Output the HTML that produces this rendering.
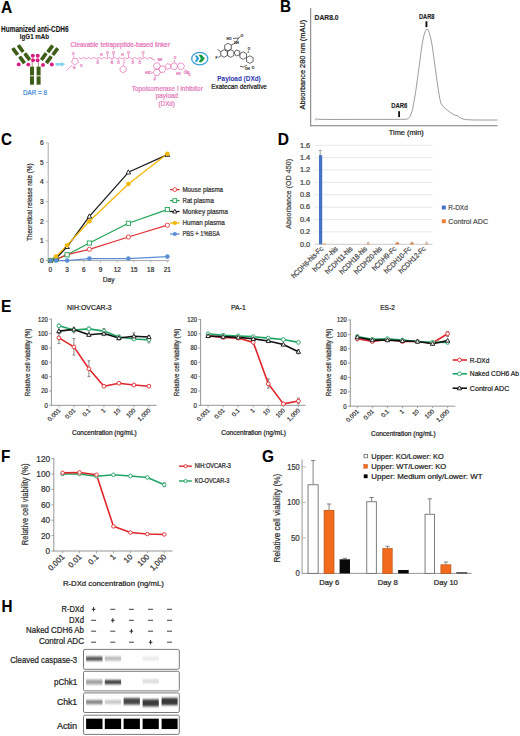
<!DOCTYPE html>
<html><head><meta charset="utf-8"><style>
html,body{margin:0;padding:0;background:#fff;width:520px;height:736px;overflow:hidden;}
svg{display:block;font-family:"Liberation Sans",sans-serif;}
</style></head><body>
<svg width="520" height="736" viewBox="0 0 520 736">
<rect width="520" height="736" fill="#fff"/>
<text x="0.90" y="12.90" font-size="16.0" fill="#000" stroke="#000" stroke-width="0.1" font-weight="bold" textLength="11.2" lengthAdjust="spacingAndGlyphs" >A</text>
<text x="280.00" y="12.30" font-size="15.6" fill="#000" stroke="#000" stroke-width="0.1" font-weight="bold" textLength="11.0" lengthAdjust="spacingAndGlyphs" >B</text>
<text x="0.90" y="145.40" font-size="15.9" fill="#000" stroke="#000" stroke-width="0.1" font-weight="bold" textLength="11.0" lengthAdjust="spacingAndGlyphs" >C</text>
<text x="277.80" y="145.30" font-size="15.6" fill="#000" stroke="#000" stroke-width="0.1" font-weight="bold" textLength="11.2" lengthAdjust="spacingAndGlyphs" >D</text>
<text x="1.00" y="311.80" font-size="16.4" fill="#000" stroke="#000" stroke-width="0.1" font-weight="bold" textLength="10.3" lengthAdjust="spacingAndGlyphs" >E</text>
<text x="1.00" y="461.80" font-size="16.4" fill="#000" stroke="#000" stroke-width="0.1" font-weight="bold" textLength="9.3" lengthAdjust="spacingAndGlyphs" >F</text>
<text x="262.00" y="462.00" font-size="16.0" fill="#000" stroke="#000" stroke-width="0.1" font-weight="bold" textLength="12.0" lengthAdjust="spacingAndGlyphs" >G</text>
<text x="1.40" y="611.90" font-size="16.4" fill="#000" stroke="#000" stroke-width="0.1" font-weight="bold" textLength="11.0" lengthAdjust="spacingAndGlyphs" >H</text>
<text x="1.00" y="32.30" font-size="8.3" fill="#111" stroke="#111" stroke-width="0.1" font-weight="bold" textLength="67.6" lengthAdjust="spacingAndGlyphs" >Humanized anti-CDH6</text>
<text x="19.80" y="39.10" font-size="7.9" fill="#111" stroke="#111" stroke-width="0.1" font-weight="bold" textLength="29.3" lengthAdjust="spacingAndGlyphs" >IgG1 mAb</text>
<rect x="11.00" y="49.65" width="8.4" height="3.7" rx="0.6" fill="#3e5d17" transform="rotate(53.5 15.20 51.50)"/>
<rect x="16.50" y="46.75" width="8.4" height="3.7" rx="0.6" fill="#3e5d17" transform="rotate(53.5 20.70 48.60)"/>
<rect x="17.90" y="58.05" width="8.4" height="3.7" rx="0.6" fill="#3e5d17" transform="rotate(53.5 22.10 59.90)"/>
<rect x="23.10" y="54.85" width="8.4" height="3.7" rx="0.6" fill="#3e5d17" transform="rotate(53.5 27.30 56.70)"/>
<rect x="51.10" y="49.75" width="8.4" height="3.7" rx="0.6" fill="#3e5d17" transform="rotate(-53.5 55.30 51.60)"/>
<rect x="46.10" y="46.95" width="8.4" height="3.7" rx="0.6" fill="#3e5d17" transform="rotate(-53.5 50.30 48.80)"/>
<rect x="44.60" y="57.85" width="8.4" height="3.7" rx="0.6" fill="#3e5d17" transform="rotate(-53.5 48.80 59.70)"/>
<rect x="39.60" y="54.75" width="8.4" height="3.7" rx="0.6" fill="#3e5d17" transform="rotate(-53.5 43.80 56.60)"/>
<rect x="30.00" y="66.60" width="4.00" height="8.80" fill="#3e5d17" stroke="none" stroke-width="0" />
<rect x="30.00" y="76.30" width="4.00" height="8.40" fill="#3e5d17" stroke="none" stroke-width="0" />
<rect x="36.60" y="66.60" width="4.00" height="8.80" fill="#3e5d17" stroke="none" stroke-width="0" />
<rect x="36.60" y="76.30" width="4.00" height="8.40" fill="#3e5d17" stroke="none" stroke-width="0" />
<line x1="32.20" y1="62.00" x2="32.20" y2="66.60" stroke="#6b5a40" stroke-width="0.6" />
<line x1="38.40" y1="62.00" x2="38.40" y2="66.60" stroke="#6b5a40" stroke-width="0.6" />
<circle cx="18.70" cy="64.40" r="1.95" fill="#d8197f" stroke="none" stroke-width="0"/>
<circle cx="28.30" cy="64.60" r="1.95" fill="#d8197f" stroke="none" stroke-width="0"/>
<circle cx="32.80" cy="55.70" r="1.95" fill="#d8197f" stroke="none" stroke-width="0"/>
<circle cx="37.80" cy="55.70" r="1.95" fill="#d8197f" stroke="none" stroke-width="0"/>
<circle cx="33.00" cy="60.30" r="1.95" fill="#d8197f" stroke="none" stroke-width="0"/>
<circle cx="37.60" cy="60.30" r="1.95" fill="#d8197f" stroke="none" stroke-width="0"/>
<circle cx="43.00" cy="64.90" r="1.95" fill="#d8197f" stroke="none" stroke-width="0"/>
<circle cx="51.80" cy="64.50" r="1.95" fill="#d8197f" stroke="none" stroke-width="0"/>
<line x1="55.60" y1="64.30" x2="62.50" y2="64.30" stroke="#86d6ef" stroke-width="2.6" />
<polygon points="61.50,61.80 65.00,64.30 61.50,66.80" fill="#86d6ef" stroke="none" stroke-width="1" stroke-linejoin="round" />
<text x="23.00" y="95.00" font-size="7.5" fill="#3a88dc" stroke="#3a88dc" stroke-width="0.22" textLength="24" lengthAdjust="spacingAndGlyphs" >DAR = 8</text>
<text x="70.50" y="47.00" font-size="7.6" fill="#e46db6" stroke="#e46db6" stroke-width="0.22" textLength="99.5" lengthAdjust="spacingAndGlyphs" >Cleavable tetrapeptide-based linker</text>
<line x1="66.40" y1="70.60" x2="72.40" y2="65.00" stroke="#e46db6" stroke-width="0.7" />
<polygon points="77.12,58.49 78.42,62.51 75.00,65.00 71.58,62.51 72.88,58.49" fill="none" stroke="#e46db6" stroke-width="0.7" stroke-linejoin="round" />
<text x="73.20" y="54.80" font-size="3.2" fill="#e46db6" stroke="#e46db6" stroke-width="0.22" text-anchor="middle" >O</text>
<line x1="73.50" y1="55.50" x2="73.80" y2="57.80" stroke="#e46db6" stroke-width="0.7" />
<text x="81.20" y="67.20" font-size="3.2" fill="#e46db6" stroke="#e46db6" stroke-width="0.22" text-anchor="middle" >O</text>
<text x="74.20" y="68.60" font-size="3.2" fill="#e46db6" stroke="#e46db6" stroke-width="0.22" text-anchor="middle" >N</text>
<polyline points="78.60,57.40 81.15,58.90 83.70,57.40 86.25,58.90 88.80,57.40 91.35,58.90 93.90,57.40 96.45,58.90 99.00,57.40 101.55,58.90 104.10,57.40 106.65,58.90 109.20,57.40 111.75,58.90 114.30,57.40 116.85,58.90 119.40,57.40 121.95,58.90 124.50,57.40 127.05,58.90 129.60,57.40 132.15,58.90 134.70,57.40 137.25,58.90 139.80,57.40 142.35,58.90 144.90,57.40 147.45,58.90 150.00,57.40 152.55,58.90" fill="none" stroke="#e46db6" stroke-width="0.7" stroke-linejoin="round" />
<line x1="107.50" y1="57.50" x2="107.50" y2="54.00" stroke="#e46db6" stroke-width="0.7" />
<text x="107.50" y="53.60" font-size="3.2" fill="#e46db6" stroke="#e46db6" stroke-width="0.22" text-anchor="middle" >O</text>
<line x1="128.50" y1="57.50" x2="128.50" y2="54.00" stroke="#e46db6" stroke-width="0.7" />
<text x="128.50" y="53.60" font-size="3.2" fill="#e46db6" stroke="#e46db6" stroke-width="0.22" text-anchor="middle" >O</text>
<line x1="143.20" y1="57.50" x2="143.20" y2="54.00" stroke="#e46db6" stroke-width="0.7" />
<text x="143.20" y="53.60" font-size="3.2" fill="#e46db6" stroke="#e46db6" stroke-width="0.22" text-anchor="middle" >O</text>
<line x1="113.50" y1="57.50" x2="113.50" y2="54.00" stroke="#e46db6" stroke-width="0.7" />
<text x="113.50" y="53.60" font-size="3.2" fill="#e46db6" stroke="#e46db6" stroke-width="0.22" text-anchor="middle" >O</text>
<line x1="97.80" y1="58.80" x2="97.80" y2="61.50" stroke="#e46db6" stroke-width="0.7" />
<text x="97.80" y="64.20" font-size="3.2" fill="#e46db6" stroke="#e46db6" stroke-width="0.22" text-anchor="middle" >O</text>
<line x1="118.60" y1="58.80" x2="118.60" y2="61.50" stroke="#e46db6" stroke-width="0.7" />
<text x="118.60" y="64.20" font-size="3.2" fill="#e46db6" stroke="#e46db6" stroke-width="0.22" text-anchor="middle" >O</text>
<line x1="132.80" y1="58.80" x2="132.80" y2="61.50" stroke="#e46db6" stroke-width="0.7" />
<text x="132.80" y="64.20" font-size="3.2" fill="#e46db6" stroke="#e46db6" stroke-width="0.22" text-anchor="middle" >O</text>
<line x1="112.00" y1="58.80" x2="112.00" y2="61.50" stroke="#e46db6" stroke-width="0.7" />
<text x="112.00" y="64.20" font-size="3.2" fill="#e46db6" stroke="#e46db6" stroke-width="0.22" text-anchor="middle" >N</text>
<line x1="139.80" y1="58.80" x2="139.80" y2="61.50" stroke="#e46db6" stroke-width="0.7" />
<text x="139.80" y="64.20" font-size="3.2" fill="#e46db6" stroke="#e46db6" stroke-width="0.22" text-anchor="middle" >O</text>
<text x="101.30" y="55.60" font-size="3.2" fill="#e46db6" stroke="#e46db6" stroke-width="0.22" text-anchor="middle" >H</text>
<text x="122.30" y="55.60" font-size="3.2" fill="#e46db6" stroke="#e46db6" stroke-width="0.22" text-anchor="middle" >H</text>
<line x1="124.30" y1="59.00" x2="123.60" y2="65.50" stroke="#e46db6" stroke-width="0.7" />
<polygon points="126.23,71.05 123.20,72.80 120.17,71.05 120.17,67.55 123.20,65.80 126.23,67.55" fill="none" stroke="#e46db6" stroke-width="0.7" stroke-linejoin="round" />
<polygon points="160.50,66.00 158.70,69.12 155.10,69.12 153.30,66.00 155.10,62.88 158.70,62.88" fill="none" stroke="#e46db6" stroke-width="0.7" stroke-linejoin="round" />
<polygon points="160.50,72.30 158.70,75.42 155.10,75.42 153.30,72.30 155.10,69.18 158.70,69.18" fill="none" stroke="#e46db6" stroke-width="0.7" stroke-linejoin="round" />
<polygon points="165.90,69.20 164.10,72.32 160.50,72.32 158.70,69.20 160.50,66.08 164.10,66.08" fill="none" stroke="#e46db6" stroke-width="0.7" stroke-linejoin="round" />
<polygon points="165.20,66.40 167.27,63.55 170.63,64.64 170.63,68.16 167.27,69.25" fill="none" stroke="#e46db6" stroke-width="0.7" stroke-linejoin="round" />
<polygon points="177.80,66.20 176.00,69.32 172.40,69.32 170.60,66.20 172.40,63.08 176.00,63.08" fill="none" stroke="#e46db6" stroke-width="0.7" stroke-linejoin="round" />
<polygon points="184.50,66.20 182.70,69.32 179.10,69.32 177.30,66.20 179.10,63.08 182.70,63.08" fill="none" stroke="#e46db6" stroke-width="0.7" stroke-linejoin="round" />
<line x1="150.50" y1="58.20" x2="155.00" y2="60.20" stroke="#e46db6" stroke-width="0.7" />
<text x="160.00" y="61.20" font-size="3.0" fill="#e46db6" stroke="#e46db6" stroke-width="0.22" text-anchor="middle" >NH</text>
<text x="148.30" y="74.00" font-size="3.0" fill="#e46db6" stroke="#e46db6" stroke-width="0.22" text-anchor="middle" >H3C</text>
<text x="154.80" y="81.00" font-size="3.2" fill="#e46db6" stroke="#e46db6" stroke-width="0.22" text-anchor="middle" >F</text>
<line x1="151.00" y1="72.80" x2="153.30" y2="72.80" stroke="#e46db6" stroke-width="0.7" />
<line x1="155.10" y1="75.50" x2="155.10" y2="78.20" stroke="#e46db6" stroke-width="0.7" />
<text x="174.90" y="59.30" font-size="3.2" fill="#e46db6" stroke="#e46db6" stroke-width="0.22" text-anchor="middle" >O</text>
<line x1="174.50" y1="60.00" x2="174.50" y2="62.60" stroke="#e46db6" stroke-width="0.7" />
<text x="178.60" y="74.60" font-size="3.0" fill="#e46db6" stroke="#e46db6" stroke-width="0.22" text-anchor="middle" >HO</text>
<text x="189.40" y="76.40" font-size="3.0" fill="#e46db6" stroke="#e46db6" stroke-width="0.22" text-anchor="middle" >O</text>
<text x="186.50" y="73.60" font-size="2.8" fill="#e46db6" stroke="#e46db6" stroke-width="0.22" text-anchor="middle" >CH3</text>
<line x1="184.50" y1="69.40" x2="187.60" y2="71.20" stroke="#e46db6" stroke-width="0.7" />
<text x="131.80" y="90.60" font-size="7.6" fill="#e377b8" stroke="#e377b8" stroke-width="0.22" textLength="71.0" lengthAdjust="spacingAndGlyphs" >Topoisomerase I inhibitor</text>
<text x="166.90" y="98.20" font-size="7.4" fill="#e377b8" stroke="#e377b8" stroke-width="0.22" text-anchor="middle" textLength="22.4" lengthAdjust="spacingAndGlyphs" >payload</text>
<text x="166.70" y="105.70" font-size="7.4" fill="#e377b8" stroke="#e377b8" stroke-width="0.22" text-anchor="middle" textLength="16.3" lengthAdjust="spacingAndGlyphs" >(DXd)</text>
<ellipse cx="199.75" cy="58.6" rx="8.1" ry="6.3" fill="#fff" stroke="#3aa0d8" stroke-width="1.3"/>
<polygon points="194.70,55.40 197.10,55.40 199.20,58.60 197.10,61.80 194.70,61.80 196.60,58.60" fill="#2a9fd6" stroke="none" stroke-width="1" stroke-linejoin="round" />
<polygon points="198.60,54.70 201.60,54.70 204.80,58.50 201.60,62.30 198.60,62.30 200.90,58.50" fill="#179a43" stroke="none" stroke-width="1" stroke-linejoin="round" />
<polygon points="231.29,49.00 228.00,50.90 224.71,49.00 224.71,45.20 228.00,43.30 231.29,45.20" fill="none" stroke="#333" stroke-width="0.75" stroke-linejoin="round" />
<polygon points="227.39,55.40 224.10,57.30 220.81,55.40 220.81,51.60 224.10,49.70 227.39,51.60" fill="none" stroke="#333" stroke-width="0.75" stroke-linejoin="round" />
<polygon points="233.99,55.40 230.70,57.30 227.41,55.40 227.41,51.60 230.70,49.70 233.99,51.60" fill="none" stroke="#333" stroke-width="0.75" stroke-linejoin="round" />
<polygon points="234.00,53.00 236.21,49.96 239.79,51.12 239.79,54.88 236.21,56.04" fill="none" stroke="#333" stroke-width="0.75" stroke-linejoin="round" />
<polygon points="246.49,57.50 243.20,59.40 239.91,57.50 239.91,53.70 243.20,51.80 246.49,53.70" fill="none" stroke="#333" stroke-width="0.75" stroke-linejoin="round" />
<polygon points="253.09,61.50 249.80,63.40 246.51,61.50 246.51,57.70 249.80,55.80 253.09,57.70" fill="none" stroke="#333" stroke-width="0.75" stroke-linejoin="round" />
<line x1="220.90" y1="51.90" x2="217.50" y2="49.50" stroke="#333" stroke-width="0.75" />
<text x="216.50" y="58.60" font-size="3.4" fill="#333" stroke="#333" stroke-width="0.22" text-anchor="middle" >F</text>
<line x1="220.90" y1="55.90" x2="218.30" y2="57.40" stroke="#333" stroke-width="0.75" />
<line x1="231.20" y1="45.00" x2="235.00" y2="43.30" stroke="#333" stroke-width="0.75" />
<text x="236.50" y="44.20" font-size="3.2" fill="#333" stroke="#333" stroke-width="0.22" text-anchor="middle" >NH</text>
<line x1="236.80" y1="41.20" x2="238.50" y2="38.00" stroke="#333" stroke-width="0.75" />
<line x1="238.50" y1="38.00" x2="233.00" y2="38.50" stroke="#333" stroke-width="0.75" />
<line x1="238.50" y1="38.00" x2="240.50" y2="36.50" stroke="#333" stroke-width="0.75" />
<text x="229.00" y="40.00" font-size="3.2" fill="#333" stroke="#333" stroke-width="0.22" text-anchor="middle" >HO</text>
<text x="242.00" y="37.00" font-size="3.2" fill="#333" stroke="#333" stroke-width="0.22" text-anchor="middle" >O</text>
<line x1="248.00" y1="53.00" x2="248.50" y2="50.80" stroke="#333" stroke-width="0.75" />
<text x="249.00" y="50.30" font-size="3.2" fill="#333" stroke="#333" stroke-width="0.22" text-anchor="middle" >O</text>
<line x1="247.00" y1="65.00" x2="243.50" y2="67.00" stroke="#333" stroke-width="0.75" />
<line x1="243.50" y1="67.00" x2="240.00" y2="66.20" stroke="#333" stroke-width="0.75" />
<text x="247.50" y="69.50" font-size="3.2" fill="#333" stroke="#333" stroke-width="0.22" text-anchor="middle" >OH</text>
<text x="253.00" y="69.00" font-size="3.2" fill="#333" stroke="#333" stroke-width="0.22" text-anchor="middle" >O</text>
<text x="217.30" y="80.70" font-size="7.7" fill="#2c38b0" stroke="#2c38b0" stroke-width="0.05" font-weight="bold" textLength="43.4" lengthAdjust="spacingAndGlyphs" >Payload (DXd)</text>
<text x="211.30" y="88.90" font-size="8.0" fill="#111" stroke="#111" stroke-width="0.22" textLength="55.6" lengthAdjust="spacingAndGlyphs" >Exatecan derivative</text>
<line x1="310.70" y1="8.00" x2="310.70" y2="126.30" stroke="#7a7a7a" stroke-width="1.0" />
<line x1="310.20" y1="125.80" x2="497.60" y2="125.80" stroke="#7a7a7a" stroke-width="1.1" />
<text x="304.70" y="64.60" font-size="7.6" fill="#222" stroke="#222" stroke-width="0.22" text-anchor="middle" textLength="89.7" lengthAdjust="spacingAndGlyphs" transform="rotate(-90 304.70 64.60)" >Absorbance 280 nm (mAU)</text>
<text x="314.60" y="19.50" font-size="6.6" fill="#222" stroke="#222" stroke-width="0.12" font-weight="bold" textLength="24.0" lengthAdjust="spacingAndGlyphs" >DAR8.0</text>
<text x="419.00" y="18.90" font-size="6.6" fill="#222" stroke="#222" stroke-width="0.12" font-weight="bold" textLength="15.4" lengthAdjust="spacingAndGlyphs" >DAR8</text>
<text x="391.30" y="107.50" font-size="6.6" fill="#222" stroke="#222" stroke-width="0.12" font-weight="bold" textLength="16.0" lengthAdjust="spacingAndGlyphs" >DAR6</text>
<rect x="425.50" y="21.30" width="1.90" height="5.80" fill="#111" stroke="none" stroke-width="0" />
<rect x="398.20" y="111.20" width="1.80" height="5.90" fill="#111" stroke="none" stroke-width="0" />
<text x="388.80" y="135.00" font-size="7.4" fill="#222" stroke="#222" stroke-width="0.22" textLength="35" lengthAdjust="spacingAndGlyphs" >Time (min)</text>
<polyline points="315.00,120.40 315.60,119.00 316.50,118.80 318.00,119.30 330.00,119.50 360.00,119.40 390.00,119.40 405.00,119.30 407.70,119.00 410.00,116.50 412.30,110.80 414.00,101.50 415.40,93.80 417.30,80.00 419.20,66.20 420.80,53.50 422.30,43.10 424.00,35.00 425.40,30.80 426.90,29.00 428.00,29.80 429.20,32.30 430.80,38.50 432.30,46.20 433.80,57.50 435.40,69.20 437.00,81.00 438.50,90.80 439.70,98.00 440.80,103.10 443.00,106.50 446.20,109.20 449.00,111.50 452.30,113.80 455.00,115.20 457.70,115.80 459.00,117.00 461.50,118.50 464.00,119.30 466.20,119.70 475.00,120.00 497.50,120.00" fill="none" stroke="#8c8c8c" stroke-width="0.85" stroke-linejoin="round" />
<line x1="48.20" y1="142.80" x2="48.20" y2="261.00" stroke="#a8a8a8" stroke-width="1.0" />
<line x1="48.20" y1="260.60" x2="169.50" y2="260.60" stroke="#a8a8a8" stroke-width="1.0" />
<line x1="45.80" y1="260.50" x2="48.20" y2="260.50" stroke="#a8a8a8" stroke-width="0.8" />
<text x="43.60" y="262.70" font-size="6.6" fill="#333" stroke="#333" stroke-width="0.22" text-anchor="end" >0</text>
<line x1="45.80" y1="240.90" x2="48.20" y2="240.90" stroke="#a8a8a8" stroke-width="0.8" />
<text x="43.60" y="243.10" font-size="6.6" fill="#333" stroke="#333" stroke-width="0.22" text-anchor="end" >1</text>
<line x1="45.80" y1="221.30" x2="48.20" y2="221.30" stroke="#a8a8a8" stroke-width="0.8" />
<text x="43.60" y="223.50" font-size="6.6" fill="#333" stroke="#333" stroke-width="0.22" text-anchor="end" >2</text>
<line x1="45.80" y1="201.70" x2="48.20" y2="201.70" stroke="#a8a8a8" stroke-width="0.8" />
<text x="43.60" y="203.90" font-size="6.6" fill="#333" stroke="#333" stroke-width="0.22" text-anchor="end" >3</text>
<line x1="45.80" y1="182.10" x2="48.20" y2="182.10" stroke="#a8a8a8" stroke-width="0.8" />
<text x="43.60" y="184.30" font-size="6.6" fill="#333" stroke="#333" stroke-width="0.22" text-anchor="end" >4</text>
<line x1="45.80" y1="162.50" x2="48.20" y2="162.50" stroke="#a8a8a8" stroke-width="0.8" />
<text x="43.60" y="164.70" font-size="6.6" fill="#333" stroke="#333" stroke-width="0.22" text-anchor="end" >5</text>
<line x1="45.80" y1="142.90" x2="48.20" y2="142.90" stroke="#a8a8a8" stroke-width="0.8" />
<text x="43.60" y="145.10" font-size="6.6" fill="#333" stroke="#333" stroke-width="0.22" text-anchor="end" >6</text>
<line x1="50.40" y1="260.60" x2="50.40" y2="262.80" stroke="#a8a8a8" stroke-width="0.7" />
<text x="50.40" y="272.00" font-size="6.4" fill="#333" stroke="#333" stroke-width="0.22" text-anchor="middle" >0</text>
<line x1="67.11" y1="260.60" x2="67.11" y2="262.80" stroke="#a8a8a8" stroke-width="0.7" />
<text x="67.11" y="272.00" font-size="6.4" fill="#333" stroke="#333" stroke-width="0.22" text-anchor="middle" >3</text>
<line x1="83.82" y1="260.60" x2="83.82" y2="262.80" stroke="#a8a8a8" stroke-width="0.7" />
<text x="83.82" y="272.00" font-size="6.4" fill="#333" stroke="#333" stroke-width="0.22" text-anchor="middle" >6</text>
<line x1="100.53" y1="260.60" x2="100.53" y2="262.80" stroke="#a8a8a8" stroke-width="0.7" />
<text x="100.53" y="272.00" font-size="6.4" fill="#333" stroke="#333" stroke-width="0.22" text-anchor="middle" >9</text>
<line x1="117.24" y1="260.60" x2="117.24" y2="262.80" stroke="#a8a8a8" stroke-width="0.7" />
<text x="117.24" y="272.00" font-size="6.4" fill="#333" stroke="#333" stroke-width="0.22" text-anchor="middle" >12</text>
<line x1="133.95" y1="260.60" x2="133.95" y2="262.80" stroke="#a8a8a8" stroke-width="0.7" />
<text x="133.95" y="272.00" font-size="6.4" fill="#333" stroke="#333" stroke-width="0.22" text-anchor="middle" >15</text>
<line x1="150.66" y1="260.60" x2="150.66" y2="262.80" stroke="#a8a8a8" stroke-width="0.7" />
<text x="150.66" y="272.00" font-size="6.4" fill="#333" stroke="#333" stroke-width="0.22" text-anchor="middle" >18</text>
<line x1="167.37" y1="260.60" x2="167.37" y2="262.80" stroke="#a8a8a8" stroke-width="0.7" />
<text x="167.37" y="272.00" font-size="6.4" fill="#333" stroke="#333" stroke-width="0.22" text-anchor="middle" >21</text>
<text x="108.70" y="282.00" font-size="6.6" fill="#333" stroke="#333" stroke-width="0.22" text-anchor="middle" >Day</text>
<text x="32.50" y="202.20" font-size="6.8" fill="#333" stroke="#333" stroke-width="0.22" text-anchor="middle" textLength="77.5" lengthAdjust="spacingAndGlyphs" transform="rotate(-90 32.50 202.20)" >Theoretical release rate (%)</text>
<polyline points="50.40,260.50 55.97,258.54 67.11,246.78 89.39,216.40 128.38,172.30 167.37,154.66" fill="none" stroke="#1a1a1a" stroke-width="1.25" stroke-linejoin="round" />
<polyline points="50.40,260.50 55.97,256.58 67.11,245.21 89.39,221.30 128.38,184.06 167.37,153.68" fill="none" stroke="#f2b705" stroke-width="1.25" stroke-linejoin="round" />
<polyline points="50.40,260.50 55.97,259.52 67.11,254.82 89.39,243.06 128.38,223.26 167.37,209.54" fill="none" stroke="#23a457" stroke-width="1.25" stroke-linejoin="round" />
<polyline points="50.40,260.50 55.97,259.52 67.11,254.62 89.39,249.33 128.38,236.98 167.37,225.22" fill="none" stroke="#e2363a" stroke-width="1.25" stroke-linejoin="round" />
<polyline points="50.40,260.50 55.97,260.50 67.11,260.50 89.39,258.54 128.38,258.54 167.37,256.58" fill="none" stroke="#5b8ed4" stroke-width="1.25" stroke-linejoin="round" />
<circle cx="50.40" cy="260.50" r="2.1" fill="#fff" stroke="#e2363a" stroke-width="0.9"/>
<circle cx="55.97" cy="259.52" r="2.1" fill="#fff" stroke="#e2363a" stroke-width="0.9"/>
<circle cx="67.11" cy="254.62" r="2.1" fill="#fff" stroke="#e2363a" stroke-width="0.9"/>
<circle cx="89.39" cy="249.33" r="2.1" fill="#fff" stroke="#e2363a" stroke-width="0.9"/>
<circle cx="128.38" cy="236.98" r="2.1" fill="#fff" stroke="#e2363a" stroke-width="0.9"/>
<circle cx="167.37" cy="225.22" r="2.1" fill="#fff" stroke="#e2363a" stroke-width="0.9"/>
<rect x="48.30" y="258.40" width="4.20" height="4.20" fill="#fff" stroke="#23a457" stroke-width="0.9" />
<rect x="53.87" y="257.42" width="4.20" height="4.20" fill="#fff" stroke="#23a457" stroke-width="0.9" />
<rect x="65.01" y="252.72" width="4.20" height="4.20" fill="#fff" stroke="#23a457" stroke-width="0.9" />
<rect x="87.29" y="240.96" width="4.20" height="4.20" fill="#fff" stroke="#23a457" stroke-width="0.9" />
<rect x="126.28" y="221.16" width="4.20" height="4.20" fill="#fff" stroke="#23a457" stroke-width="0.9" />
<rect x="165.27" y="207.44" width="4.20" height="4.20" fill="#fff" stroke="#23a457" stroke-width="0.9" />
<polygon points="50.40,258.00 52.70,262.20 48.10,262.20" fill="#fff" stroke="#1a1a1a" stroke-width="0.9" stroke-linejoin="round" />
<polygon points="55.97,256.04 58.27,260.24 53.67,260.24" fill="#fff" stroke="#1a1a1a" stroke-width="0.9" stroke-linejoin="round" />
<polygon points="67.11,244.28 69.41,248.48 64.81,248.48" fill="#fff" stroke="#1a1a1a" stroke-width="0.9" stroke-linejoin="round" />
<polygon points="89.39,213.90 91.69,218.10 87.09,218.10" fill="#fff" stroke="#1a1a1a" stroke-width="0.9" stroke-linejoin="round" />
<polygon points="128.38,169.80 130.68,174.00 126.08,174.00" fill="#fff" stroke="#1a1a1a" stroke-width="0.9" stroke-linejoin="round" />
<polygon points="167.37,152.16 169.67,156.36 165.07,156.36" fill="#fff" stroke="#1a1a1a" stroke-width="0.9" stroke-linejoin="round" />
<circle cx="50.40" cy="260.50" r="2.3000000000000003" fill="#f2b705" stroke="none" stroke-width="0"/>
<circle cx="55.97" cy="256.58" r="2.3000000000000003" fill="#f2b705" stroke="none" stroke-width="0"/>
<circle cx="67.11" cy="245.21" r="2.3000000000000003" fill="#f2b705" stroke="none" stroke-width="0"/>
<circle cx="89.39" cy="221.30" r="2.3000000000000003" fill="#f2b705" stroke="none" stroke-width="0"/>
<circle cx="128.38" cy="184.06" r="2.3000000000000003" fill="#f2b705" stroke="none" stroke-width="0"/>
<circle cx="167.37" cy="153.68" r="2.3000000000000003" fill="#f2b705" stroke="none" stroke-width="0"/>
<circle cx="50.40" cy="260.50" r="2.3000000000000003" fill="#5b8ed4" stroke="none" stroke-width="0"/>
<circle cx="55.97" cy="260.50" r="2.3000000000000003" fill="#5b8ed4" stroke="none" stroke-width="0"/>
<circle cx="67.11" cy="260.50" r="2.3000000000000003" fill="#5b8ed4" stroke="none" stroke-width="0"/>
<circle cx="89.39" cy="258.54" r="2.3000000000000003" fill="#5b8ed4" stroke="none" stroke-width="0"/>
<circle cx="128.38" cy="258.54" r="2.3000000000000003" fill="#5b8ed4" stroke="none" stroke-width="0"/>
<circle cx="167.37" cy="256.58" r="2.3000000000000003" fill="#5b8ed4" stroke="none" stroke-width="0"/>
<line x1="170.00" y1="189.60" x2="179.60" y2="189.60" stroke="#e2363a" stroke-width="1.3" />
<circle cx="174.80" cy="189.60" r="1.9" fill="#fff" stroke="#e2363a" stroke-width="0.9"/>
<text x="182.40" y="192.00" font-size="6.8" fill="#333" stroke="#333" stroke-width="0.22" textLength="40.7" lengthAdjust="spacingAndGlyphs" >Mouse plasma</text>
<line x1="170.00" y1="200.60" x2="179.60" y2="200.60" stroke="#23a457" stroke-width="1.3" />
<rect x="172.90" y="198.70" width="3.80" height="3.80" fill="#fff" stroke="#23a457" stroke-width="0.9" />
<text x="182.40" y="203.00" font-size="6.8" fill="#333" stroke="#333" stroke-width="0.22" textLength="31.5" lengthAdjust="spacingAndGlyphs" >Rat plasma</text>
<line x1="170.00" y1="211.50" x2="179.60" y2="211.50" stroke="#1a1a1a" stroke-width="1.3" />
<polygon points="174.80,209.20 176.90,213.00 172.70,213.00" fill="#fff" stroke="#1a1a1a" stroke-width="0.9" stroke-linejoin="round" />
<text x="182.40" y="213.90" font-size="6.8" fill="#333" stroke="#333" stroke-width="0.22" textLength="45.5" lengthAdjust="spacingAndGlyphs" >Monkey plasma</text>
<line x1="170.00" y1="223.00" x2="179.60" y2="223.00" stroke="#f2b705" stroke-width="1.3" />
<circle cx="174.80" cy="223.00" r="2.1" fill="#f2b705" stroke="none" stroke-width="0"/>
<text x="182.40" y="225.40" font-size="6.8" fill="#333" stroke="#333" stroke-width="0.22" textLength="42.5" lengthAdjust="spacingAndGlyphs" >Human plasma</text>
<line x1="170.00" y1="234.00" x2="179.60" y2="234.00" stroke="#5b8ed4" stroke-width="1.3" />
<circle cx="174.80" cy="234.00" r="2.1" fill="#5b8ed4" stroke="none" stroke-width="0"/>
<text x="182.40" y="236.40" font-size="6.8" fill="#333" stroke="#333" stroke-width="0.22" textLength="37.5" lengthAdjust="spacingAndGlyphs" >PBS + 1%BSA</text>
<text x="310.20" y="246.60" font-size="6.8" fill="#444" stroke="#444" stroke-width="0.22" text-anchor="end" textLength="10.3" lengthAdjust="spacingAndGlyphs" >0.0</text>
<line x1="314.80" y1="231.92" x2="432.50" y2="231.92" stroke="#e2e2e2" stroke-width="0.8" />
<text x="310.20" y="234.22" font-size="6.8" fill="#444" stroke="#444" stroke-width="0.22" text-anchor="end" textLength="10.3" lengthAdjust="spacingAndGlyphs" >0.2</text>
<line x1="314.80" y1="219.54" x2="432.50" y2="219.54" stroke="#e2e2e2" stroke-width="0.8" />
<text x="310.20" y="221.84" font-size="6.8" fill="#444" stroke="#444" stroke-width="0.22" text-anchor="end" textLength="10.3" lengthAdjust="spacingAndGlyphs" >0.4</text>
<line x1="314.80" y1="207.16" x2="432.50" y2="207.16" stroke="#e2e2e2" stroke-width="0.8" />
<text x="310.20" y="209.46" font-size="6.8" fill="#444" stroke="#444" stroke-width="0.22" text-anchor="end" textLength="10.3" lengthAdjust="spacingAndGlyphs" >0.6</text>
<line x1="314.80" y1="194.78" x2="432.50" y2="194.78" stroke="#e2e2e2" stroke-width="0.8" />
<text x="310.20" y="197.08" font-size="6.8" fill="#444" stroke="#444" stroke-width="0.22" text-anchor="end" textLength="10.3" lengthAdjust="spacingAndGlyphs" >0.8</text>
<line x1="314.80" y1="182.40" x2="432.50" y2="182.40" stroke="#e2e2e2" stroke-width="0.8" />
<text x="310.20" y="184.70" font-size="6.8" fill="#444" stroke="#444" stroke-width="0.22" text-anchor="end" textLength="10.3" lengthAdjust="spacingAndGlyphs" >1.0</text>
<line x1="314.80" y1="170.02" x2="432.50" y2="170.02" stroke="#e2e2e2" stroke-width="0.8" />
<text x="310.20" y="172.32" font-size="6.8" fill="#444" stroke="#444" stroke-width="0.22" text-anchor="end" textLength="10.3" lengthAdjust="spacingAndGlyphs" >1.2</text>
<line x1="314.80" y1="157.64" x2="432.50" y2="157.64" stroke="#e2e2e2" stroke-width="0.8" />
<text x="310.20" y="159.94" font-size="6.8" fill="#444" stroke="#444" stroke-width="0.22" text-anchor="end" textLength="10.3" lengthAdjust="spacingAndGlyphs" >1.4</text>
<line x1="314.80" y1="145.26" x2="432.50" y2="145.26" stroke="#e2e2e2" stroke-width="0.8" />
<text x="310.20" y="147.56" font-size="6.8" fill="#444" stroke="#444" stroke-width="0.22" text-anchor="end" textLength="10.3" lengthAdjust="spacingAndGlyphs" >1.6</text>
<line x1="314.80" y1="244.30" x2="432.50" y2="244.30" stroke="#c4c4c4" stroke-width="0.9" />
<text x="291.40" y="193.80" font-size="8.0" fill="#444" stroke="#444" stroke-width="0.22" text-anchor="middle" textLength="70" lengthAdjust="spacingAndGlyphs" transform="rotate(-90 291.40 193.80)" >Absorbance (OD 450)</text>
<rect x="319.00" y="155.16" width="3.20" height="89.14" fill="#4472c4" stroke="none" stroke-width="0" />
<rect x="322.40" y="243.68" width="3.60" height="0.62" fill="#ed7d31" stroke="none" stroke-width="0" />
<rect x="366.29" y="243.70" width="3.60" height="0.60" fill="#ed7d31" stroke="none" stroke-width="0" />
<rect x="395.55" y="242.75" width="3.60" height="1.55" fill="#ed7d31" stroke="none" stroke-width="0" />
<rect x="410.18" y="242.75" width="3.60" height="1.55" fill="#ed7d31" stroke="none" stroke-width="0" />
<rect x="424.81" y="243.70" width="3.60" height="0.60" fill="#ed7d31" stroke="none" stroke-width="0" />
<line x1="320.20" y1="150.40" x2="320.20" y2="156.00" stroke="#777" stroke-width="0.7" />
<line x1="318.80" y1="150.40" x2="321.60" y2="150.40" stroke="#777" stroke-width="0.7" />
<line x1="368.09" y1="242.10" x2="368.09" y2="244.30" stroke="#999" stroke-width="0.6" />
<line x1="366.89" y1="242.10" x2="369.29" y2="242.10" stroke="#999" stroke-width="0.6" />
<line x1="397.35" y1="242.10" x2="397.35" y2="244.30" stroke="#999" stroke-width="0.6" />
<line x1="396.15" y1="242.10" x2="398.55" y2="242.10" stroke="#999" stroke-width="0.6" />
<line x1="411.98" y1="242.10" x2="411.98" y2="244.30" stroke="#999" stroke-width="0.6" />
<line x1="410.78" y1="242.10" x2="413.18" y2="242.10" stroke="#999" stroke-width="0.6" />
<line x1="426.61" y1="242.10" x2="426.61" y2="244.30" stroke="#999" stroke-width="0.6" />
<line x1="425.41" y1="242.10" x2="427.81" y2="242.10" stroke="#999" stroke-width="0.6" />
<text x="323.80" y="249.30" font-size="7.4" fill="#444" stroke="#444" stroke-width="0.22" text-anchor="end" textLength="41.8" lengthAdjust="spacingAndGlyphs" transform="rotate(-45 323.80 249.30)" >hCDH6-his-Fc</text>
<text x="338.43" y="249.30" font-size="7.4" fill="#444" stroke="#444" stroke-width="0.22" text-anchor="end" textLength="32.3" lengthAdjust="spacingAndGlyphs" transform="rotate(-45 338.43 249.30)" >hCDH7-his</text>
<text x="353.06" y="249.30" font-size="7.4" fill="#444" stroke="#444" stroke-width="0.22" text-anchor="end" textLength="35.5" lengthAdjust="spacingAndGlyphs" transform="rotate(-45 353.06 249.30)" >hCDH11-his</text>
<text x="367.69" y="249.30" font-size="7.4" fill="#444" stroke="#444" stroke-width="0.22" text-anchor="end" textLength="35.9" lengthAdjust="spacingAndGlyphs" transform="rotate(-45 367.69 249.30)" >hCDH18-his</text>
<text x="382.32" y="249.30" font-size="7.4" fill="#444" stroke="#444" stroke-width="0.22" text-anchor="end" textLength="35.9" lengthAdjust="spacingAndGlyphs" transform="rotate(-45 382.32 249.30)" >hCDH20-his</text>
<text x="396.95" y="249.30" font-size="7.4" fill="#444" stroke="#444" stroke-width="0.22" text-anchor="end" textLength="31.2" lengthAdjust="spacingAndGlyphs" transform="rotate(-45 396.95 249.30)" >hCDH9-Fc</text>
<text x="411.58" y="249.30" font-size="7.4" fill="#444" stroke="#444" stroke-width="0.22" text-anchor="end" textLength="34.8" lengthAdjust="spacingAndGlyphs" transform="rotate(-45 411.58 249.30)" >hCDH10-Fc</text>
<text x="426.21" y="249.30" font-size="7.4" fill="#444" stroke="#444" stroke-width="0.22" text-anchor="end" textLength="34.8" lengthAdjust="spacingAndGlyphs" transform="rotate(-45 426.21 249.30)" >hCDH12-Fc</text>
<rect x="441.80" y="205.60" width="4.00" height="3.90" fill="#4472c4" stroke="none" stroke-width="0" />
<rect x="441.80" y="219.30" width="4.00" height="3.90" fill="#ed7d31" stroke="none" stroke-width="0" />
<text x="448.30" y="210.40" font-size="7.6" fill="#505050" stroke="#505050" stroke-width="0.22" textLength="19.5" lengthAdjust="spacingAndGlyphs" >R-DXd</text>
<text x="448.30" y="223.60" font-size="7.6" fill="#505050" stroke="#505050" stroke-width="0.22" textLength="39.8" lengthAdjust="spacingAndGlyphs" >Control ADC</text>
<line x1="51.40" y1="318.70" x2="51.40" y2="405.80" stroke="#8a8a8a" stroke-width="0.9" />
<line x1="51.40" y1="405.30" x2="156.50" y2="405.30" stroke="#8a8a8a" stroke-width="0.9" />
<line x1="49.20" y1="405.30" x2="51.40" y2="405.30" stroke="#8a8a8a" stroke-width="0.8" />
<text x="47.80" y="407.60" font-size="6.7" fill="#333" stroke="#333" stroke-width="0.22" text-anchor="end" textLength="3.4" lengthAdjust="spacingAndGlyphs" >0</text>
<line x1="49.20" y1="390.95" x2="51.40" y2="390.95" stroke="#8a8a8a" stroke-width="0.8" />
<text x="47.80" y="393.25" font-size="6.7" fill="#333" stroke="#333" stroke-width="0.22" text-anchor="end" textLength="6.6" lengthAdjust="spacingAndGlyphs" >20</text>
<line x1="49.20" y1="376.60" x2="51.40" y2="376.60" stroke="#8a8a8a" stroke-width="0.8" />
<text x="47.80" y="378.90" font-size="6.7" fill="#333" stroke="#333" stroke-width="0.22" text-anchor="end" textLength="6.6" lengthAdjust="spacingAndGlyphs" >40</text>
<line x1="49.20" y1="362.25" x2="51.40" y2="362.25" stroke="#8a8a8a" stroke-width="0.8" />
<text x="47.80" y="364.55" font-size="6.7" fill="#333" stroke="#333" stroke-width="0.22" text-anchor="end" textLength="6.6" lengthAdjust="spacingAndGlyphs" >60</text>
<line x1="49.20" y1="347.90" x2="51.40" y2="347.90" stroke="#8a8a8a" stroke-width="0.8" />
<text x="47.80" y="350.20" font-size="6.7" fill="#333" stroke="#333" stroke-width="0.22" text-anchor="end" textLength="6.6" lengthAdjust="spacingAndGlyphs" >80</text>
<line x1="49.20" y1="333.55" x2="51.40" y2="333.55" stroke="#8a8a8a" stroke-width="0.8" />
<text x="47.80" y="335.85" font-size="6.7" fill="#333" stroke="#333" stroke-width="0.22" text-anchor="end" textLength="9.8" lengthAdjust="spacingAndGlyphs" >100</text>
<line x1="49.20" y1="319.20" x2="51.40" y2="319.20" stroke="#8a8a8a" stroke-width="0.8" />
<text x="47.80" y="321.50" font-size="6.7" fill="#333" stroke="#333" stroke-width="0.22" text-anchor="end" textLength="9.8" lengthAdjust="spacingAndGlyphs" >120</text>
<line x1="58.90" y1="405.30" x2="58.90" y2="407.30" stroke="#8a8a8a" stroke-width="0.7" />
<text x="60.90" y="410.90" font-size="6.1" fill="#333" stroke="#333" stroke-width="0.22" text-anchor="end" transform="rotate(-45 60.90 410.90)" >0.001</text>
<line x1="73.90" y1="405.30" x2="73.90" y2="407.30" stroke="#8a8a8a" stroke-width="0.7" />
<text x="75.90" y="410.90" font-size="6.1" fill="#333" stroke="#333" stroke-width="0.22" text-anchor="end" transform="rotate(-45 75.90 410.90)" >0.01</text>
<line x1="88.90" y1="405.30" x2="88.90" y2="407.30" stroke="#8a8a8a" stroke-width="0.7" />
<text x="90.90" y="410.90" font-size="6.1" fill="#333" stroke="#333" stroke-width="0.22" text-anchor="end" transform="rotate(-45 90.90 410.90)" >0.1</text>
<line x1="103.90" y1="405.30" x2="103.90" y2="407.30" stroke="#8a8a8a" stroke-width="0.7" />
<text x="105.90" y="410.90" font-size="6.1" fill="#333" stroke="#333" stroke-width="0.22" text-anchor="end" transform="rotate(-45 105.90 410.90)" >1</text>
<line x1="118.90" y1="405.30" x2="118.90" y2="407.30" stroke="#8a8a8a" stroke-width="0.7" />
<text x="120.90" y="410.90" font-size="6.1" fill="#333" stroke="#333" stroke-width="0.22" text-anchor="end" transform="rotate(-45 120.90 410.90)" >10</text>
<line x1="133.90" y1="405.30" x2="133.90" y2="407.30" stroke="#8a8a8a" stroke-width="0.7" />
<text x="135.90" y="410.90" font-size="6.1" fill="#333" stroke="#333" stroke-width="0.22" text-anchor="end" transform="rotate(-45 135.90 410.90)" >100</text>
<line x1="148.90" y1="405.30" x2="148.90" y2="407.30" stroke="#8a8a8a" stroke-width="0.7" />
<text x="150.90" y="410.90" font-size="6.1" fill="#333" stroke="#333" stroke-width="0.22" text-anchor="end" transform="rotate(-45 150.90 410.90)" >1,000</text>
<text x="104.40" y="434.90" font-size="6.6" fill="#222" stroke="#222" stroke-width="0.22" text-anchor="middle" textLength="64.7" lengthAdjust="spacingAndGlyphs" >Concentration (ng/mL)</text>
<text x="89.40" y="310.20" font-size="7.4" fill="#222" stroke="#222" stroke-width="0.22" text-anchor="middle" textLength="44.6" lengthAdjust="spacingAndGlyphs" >NIH:OVCAR-3</text>
<text x="30.00" y="362.40" font-size="6.4" fill="#333" stroke="#333" stroke-width="0.22" text-anchor="middle" textLength="67.5" lengthAdjust="spacingAndGlyphs" transform="rotate(-90 30.00 362.40)" >Relative cell viability (%)</text>
<line x1="58.90" y1="332.83" x2="58.90" y2="343.60" stroke="#6a6a6a" stroke-width="0.8" />
<line x1="57.50" y1="332.83" x2="60.30" y2="332.83" stroke="#6a6a6a" stroke-width="0.8" />
<line x1="57.50" y1="343.60" x2="60.30" y2="343.60" stroke="#6a6a6a" stroke-width="0.8" />
<line x1="73.90" y1="338.57" x2="73.90" y2="355.07" stroke="#6a6a6a" stroke-width="0.8" />
<line x1="72.50" y1="338.57" x2="75.30" y2="338.57" stroke="#6a6a6a" stroke-width="0.8" />
<line x1="72.50" y1="355.07" x2="75.30" y2="355.07" stroke="#6a6a6a" stroke-width="0.8" />
<line x1="88.90" y1="360.81" x2="88.90" y2="376.60" stroke="#6a6a6a" stroke-width="0.8" />
<line x1="87.50" y1="360.81" x2="90.30" y2="360.81" stroke="#6a6a6a" stroke-width="0.8" />
<line x1="87.50" y1="376.60" x2="90.30" y2="376.60" stroke="#6a6a6a" stroke-width="0.8" />
<line x1="58.90" y1="324.22" x2="58.90" y2="333.55" stroke="#6a6a6a" stroke-width="0.8" />
<line x1="57.50" y1="324.22" x2="60.30" y2="324.22" stroke="#6a6a6a" stroke-width="0.8" />
<line x1="57.50" y1="333.55" x2="60.30" y2="333.55" stroke="#6a6a6a" stroke-width="0.8" />
<line x1="73.90" y1="327.09" x2="73.90" y2="332.83" stroke="#6a6a6a" stroke-width="0.8" />
<line x1="72.50" y1="327.09" x2="75.30" y2="327.09" stroke="#6a6a6a" stroke-width="0.8" />
<line x1="72.50" y1="332.83" x2="75.30" y2="332.83" stroke="#6a6a6a" stroke-width="0.8" />
<line x1="88.90" y1="327.09" x2="88.90" y2="336.42" stroke="#6a6a6a" stroke-width="0.8" />
<line x1="87.50" y1="327.09" x2="90.30" y2="327.09" stroke="#6a6a6a" stroke-width="0.8" />
<line x1="87.50" y1="336.42" x2="90.30" y2="336.42" stroke="#6a6a6a" stroke-width="0.8" />
<line x1="103.90" y1="328.53" x2="103.90" y2="335.70" stroke="#6a6a6a" stroke-width="0.8" />
<line x1="102.50" y1="328.53" x2="105.30" y2="328.53" stroke="#6a6a6a" stroke-width="0.8" />
<line x1="102.50" y1="335.70" x2="105.30" y2="335.70" stroke="#6a6a6a" stroke-width="0.8" />
<line x1="118.90" y1="334.99" x2="118.90" y2="340.01" stroke="#6a6a6a" stroke-width="0.8" />
<line x1="117.50" y1="334.99" x2="120.30" y2="334.99" stroke="#6a6a6a" stroke-width="0.8" />
<line x1="117.50" y1="340.01" x2="120.30" y2="340.01" stroke="#6a6a6a" stroke-width="0.8" />
<line x1="133.90" y1="332.83" x2="133.90" y2="339.29" stroke="#6a6a6a" stroke-width="0.8" />
<line x1="132.50" y1="332.83" x2="135.30" y2="332.83" stroke="#6a6a6a" stroke-width="0.8" />
<line x1="132.50" y1="339.29" x2="135.30" y2="339.29" stroke="#6a6a6a" stroke-width="0.8" />
<line x1="148.90" y1="335.70" x2="148.90" y2="342.88" stroke="#6a6a6a" stroke-width="0.8" />
<line x1="147.50" y1="335.70" x2="150.30" y2="335.70" stroke="#6a6a6a" stroke-width="0.8" />
<line x1="147.50" y1="342.88" x2="150.30" y2="342.88" stroke="#6a6a6a" stroke-width="0.8" />
<polyline points="58.90,337.86 73.90,346.90 88.90,368.78 103.90,386.21 118.90,383.20 133.90,384.99 148.90,386.21" fill="none" stroke="#e0262b" stroke-width="1.6" stroke-linejoin="round" />
<polyline points="58.90,325.80 73.90,329.96 88.90,328.89 103.90,331.11 118.90,336.99 133.90,339.07 148.90,339.86" fill="none" stroke="#1fa463" stroke-width="1.6" stroke-linejoin="round" />
<polyline points="58.90,331.11 73.90,329.39 88.90,334.70 103.90,333.55 118.90,338.00 133.90,336.28 148.90,336.99" fill="none" stroke="#111111" stroke-width="1.6" stroke-linejoin="round" />
<circle cx="58.90" cy="337.86" r="1.9" fill="#fff" stroke="#e0262b" stroke-width="0.9"/>
<circle cx="73.90" cy="346.90" r="1.9" fill="#fff" stroke="#e0262b" stroke-width="0.9"/>
<circle cx="88.90" cy="368.78" r="1.9" fill="#fff" stroke="#e0262b" stroke-width="0.9"/>
<circle cx="103.90" cy="386.21" r="1.9" fill="#fff" stroke="#e0262b" stroke-width="0.9"/>
<circle cx="118.90" cy="383.20" r="1.9" fill="#fff" stroke="#e0262b" stroke-width="0.9"/>
<circle cx="133.90" cy="384.99" r="1.9" fill="#fff" stroke="#e0262b" stroke-width="0.9"/>
<circle cx="148.90" cy="386.21" r="1.9" fill="#fff" stroke="#e0262b" stroke-width="0.9"/>
<circle cx="58.90" cy="325.80" r="1.9" fill="#fff" stroke="#1fa463" stroke-width="0.9"/>
<circle cx="73.90" cy="329.96" r="1.9" fill="#fff" stroke="#1fa463" stroke-width="0.9"/>
<circle cx="88.90" cy="328.89" r="1.9" fill="#fff" stroke="#1fa463" stroke-width="0.9"/>
<circle cx="103.90" cy="331.11" r="1.9" fill="#fff" stroke="#1fa463" stroke-width="0.9"/>
<circle cx="118.90" cy="336.99" r="1.9" fill="#fff" stroke="#1fa463" stroke-width="0.9"/>
<circle cx="133.90" cy="339.07" r="1.9" fill="#fff" stroke="#1fa463" stroke-width="0.9"/>
<circle cx="148.90" cy="339.86" r="1.9" fill="#fff" stroke="#1fa463" stroke-width="0.9"/>
<polygon points="58.90,328.91 61.10,332.71 56.70,332.71" fill="#fff" stroke="#111111" stroke-width="0.9" stroke-linejoin="round" />
<polygon points="73.90,327.19 76.10,330.99 71.70,330.99" fill="#fff" stroke="#111111" stroke-width="0.9" stroke-linejoin="round" />
<polygon points="88.90,332.50 91.10,336.30 86.70,336.30" fill="#fff" stroke="#111111" stroke-width="0.9" stroke-linejoin="round" />
<polygon points="103.90,331.35 106.10,335.15 101.70,335.15" fill="#fff" stroke="#111111" stroke-width="0.9" stroke-linejoin="round" />
<polygon points="118.90,335.80 121.10,339.60 116.70,339.60" fill="#fff" stroke="#111111" stroke-width="0.9" stroke-linejoin="round" />
<polygon points="133.90,334.08 136.10,337.88 131.70,337.88" fill="#fff" stroke="#111111" stroke-width="0.9" stroke-linejoin="round" />
<polygon points="148.90,334.79 151.10,338.59 146.70,338.59" fill="#fff" stroke="#111111" stroke-width="0.9" stroke-linejoin="round" />
<line x1="200.60" y1="319.00" x2="200.60" y2="405.80" stroke="#8a8a8a" stroke-width="0.9" />
<line x1="200.60" y1="405.30" x2="305.50" y2="405.30" stroke="#8a8a8a" stroke-width="0.9" />
<line x1="198.40" y1="405.30" x2="200.60" y2="405.30" stroke="#8a8a8a" stroke-width="0.8" />
<text x="197.00" y="407.60" font-size="6.7" fill="#333" stroke="#333" stroke-width="0.22" text-anchor="end" textLength="3.4" lengthAdjust="spacingAndGlyphs" >0</text>
<line x1="198.40" y1="391.00" x2="200.60" y2="391.00" stroke="#8a8a8a" stroke-width="0.8" />
<text x="197.00" y="393.30" font-size="6.7" fill="#333" stroke="#333" stroke-width="0.22" text-anchor="end" textLength="6.6" lengthAdjust="spacingAndGlyphs" >20</text>
<line x1="198.40" y1="376.70" x2="200.60" y2="376.70" stroke="#8a8a8a" stroke-width="0.8" />
<text x="197.00" y="379.00" font-size="6.7" fill="#333" stroke="#333" stroke-width="0.22" text-anchor="end" textLength="6.6" lengthAdjust="spacingAndGlyphs" >40</text>
<line x1="198.40" y1="362.40" x2="200.60" y2="362.40" stroke="#8a8a8a" stroke-width="0.8" />
<text x="197.00" y="364.70" font-size="6.7" fill="#333" stroke="#333" stroke-width="0.22" text-anchor="end" textLength="6.6" lengthAdjust="spacingAndGlyphs" >60</text>
<line x1="198.40" y1="348.10" x2="200.60" y2="348.10" stroke="#8a8a8a" stroke-width="0.8" />
<text x="197.00" y="350.40" font-size="6.7" fill="#333" stroke="#333" stroke-width="0.22" text-anchor="end" textLength="6.6" lengthAdjust="spacingAndGlyphs" >80</text>
<line x1="198.40" y1="333.80" x2="200.60" y2="333.80" stroke="#8a8a8a" stroke-width="0.8" />
<text x="197.00" y="336.10" font-size="6.7" fill="#333" stroke="#333" stroke-width="0.22" text-anchor="end" textLength="9.8" lengthAdjust="spacingAndGlyphs" >100</text>
<line x1="198.40" y1="319.50" x2="200.60" y2="319.50" stroke="#8a8a8a" stroke-width="0.8" />
<text x="197.00" y="321.80" font-size="6.7" fill="#333" stroke="#333" stroke-width="0.22" text-anchor="end" textLength="9.8" lengthAdjust="spacingAndGlyphs" >120</text>
<line x1="208.10" y1="405.30" x2="208.10" y2="407.30" stroke="#8a8a8a" stroke-width="0.7" />
<text x="210.10" y="410.90" font-size="6.1" fill="#333" stroke="#333" stroke-width="0.22" text-anchor="end" transform="rotate(-45 210.10 410.90)" >0.001</text>
<line x1="223.15" y1="405.30" x2="223.15" y2="407.30" stroke="#8a8a8a" stroke-width="0.7" />
<text x="225.15" y="410.90" font-size="6.1" fill="#333" stroke="#333" stroke-width="0.22" text-anchor="end" transform="rotate(-45 225.15 410.90)" >0.01</text>
<line x1="238.20" y1="405.30" x2="238.20" y2="407.30" stroke="#8a8a8a" stroke-width="0.7" />
<text x="240.20" y="410.90" font-size="6.1" fill="#333" stroke="#333" stroke-width="0.22" text-anchor="end" transform="rotate(-45 240.20 410.90)" >0.1</text>
<line x1="253.25" y1="405.30" x2="253.25" y2="407.30" stroke="#8a8a8a" stroke-width="0.7" />
<text x="255.25" y="410.90" font-size="6.1" fill="#333" stroke="#333" stroke-width="0.22" text-anchor="end" transform="rotate(-45 255.25 410.90)" >1</text>
<line x1="268.30" y1="405.30" x2="268.30" y2="407.30" stroke="#8a8a8a" stroke-width="0.7" />
<text x="270.30" y="410.90" font-size="6.1" fill="#333" stroke="#333" stroke-width="0.22" text-anchor="end" transform="rotate(-45 270.30 410.90)" >10</text>
<line x1="283.35" y1="405.30" x2="283.35" y2="407.30" stroke="#8a8a8a" stroke-width="0.7" />
<text x="285.35" y="410.90" font-size="6.1" fill="#333" stroke="#333" stroke-width="0.22" text-anchor="end" transform="rotate(-45 285.35 410.90)" >100</text>
<line x1="298.40" y1="405.30" x2="298.40" y2="407.30" stroke="#8a8a8a" stroke-width="0.7" />
<text x="300.40" y="410.90" font-size="6.1" fill="#333" stroke="#333" stroke-width="0.22" text-anchor="end" transform="rotate(-45 300.40 410.90)" >1,000</text>
<text x="253.60" y="434.90" font-size="6.6" fill="#222" stroke="#222" stroke-width="0.22" text-anchor="middle" textLength="64.7" lengthAdjust="spacingAndGlyphs" >Concentration (ng/mL)</text>
<text x="238.40" y="310.20" font-size="7.4" fill="#222" stroke="#222" stroke-width="0.22" text-anchor="middle" textLength="14.8" lengthAdjust="spacingAndGlyphs" >PA-1</text>
<text x="179.40" y="362.40" font-size="6.4" fill="#333" stroke="#333" stroke-width="0.22" text-anchor="middle" textLength="67.5" lengthAdjust="spacingAndGlyphs" transform="rotate(-90 179.40 362.40)" >Relative cell viability (%)</text>
<line x1="268.30" y1="378.85" x2="268.30" y2="388.14" stroke="#6a6a6a" stroke-width="0.8" />
<line x1="266.90" y1="378.85" x2="269.70" y2="378.85" stroke="#6a6a6a" stroke-width="0.8" />
<line x1="266.90" y1="388.14" x2="269.70" y2="388.14" stroke="#6a6a6a" stroke-width="0.8" />
<line x1="298.40" y1="398.15" x2="298.40" y2="403.87" stroke="#6a6a6a" stroke-width="0.8" />
<line x1="297.00" y1="398.15" x2="299.80" y2="398.15" stroke="#6a6a6a" stroke-width="0.8" />
<line x1="297.00" y1="403.87" x2="299.80" y2="403.87" stroke="#6a6a6a" stroke-width="0.8" />
<line x1="223.15" y1="334.51" x2="223.15" y2="338.81" stroke="#6a6a6a" stroke-width="0.8" />
<line x1="221.75" y1="334.51" x2="224.55" y2="334.51" stroke="#6a6a6a" stroke-width="0.8" />
<line x1="221.75" y1="338.81" x2="224.55" y2="338.81" stroke="#6a6a6a" stroke-width="0.8" />
<line x1="238.20" y1="335.23" x2="238.20" y2="339.52" stroke="#6a6a6a" stroke-width="0.8" />
<line x1="236.80" y1="335.23" x2="239.60" y2="335.23" stroke="#6a6a6a" stroke-width="0.8" />
<line x1="236.80" y1="339.52" x2="239.60" y2="339.52" stroke="#6a6a6a" stroke-width="0.8" />
<line x1="298.40" y1="349.53" x2="298.40" y2="353.82" stroke="#6a6a6a" stroke-width="0.8" />
<line x1="297.00" y1="349.53" x2="299.80" y2="349.53" stroke="#6a6a6a" stroke-width="0.8" />
<line x1="297.00" y1="353.82" x2="299.80" y2="353.82" stroke="#6a6a6a" stroke-width="0.8" />
<polyline points="208.10,335.94 223.15,337.38 238.20,338.09 253.25,342.38 268.30,383.85 283.35,403.87 298.40,401.01" fill="none" stroke="#e0262b" stroke-width="1.6" stroke-linejoin="round" />
<polyline points="208.10,333.80 223.15,335.23 238.20,335.94 253.25,336.66 268.30,338.09 283.35,339.52 298.40,342.38" fill="none" stroke="#1fa463" stroke-width="1.6" stroke-linejoin="round" />
<polyline points="208.10,335.94 223.15,336.66 238.20,337.38 253.25,338.81 268.30,340.95 283.35,344.53 298.40,351.68" fill="none" stroke="#111111" stroke-width="1.6" stroke-linejoin="round" />
<circle cx="208.10" cy="335.94" r="1.9" fill="#fff" stroke="#e0262b" stroke-width="0.9"/>
<circle cx="223.15" cy="337.38" r="1.9" fill="#fff" stroke="#e0262b" stroke-width="0.9"/>
<circle cx="238.20" cy="338.09" r="1.9" fill="#fff" stroke="#e0262b" stroke-width="0.9"/>
<circle cx="253.25" cy="342.38" r="1.9" fill="#fff" stroke="#e0262b" stroke-width="0.9"/>
<circle cx="268.30" cy="383.85" r="1.9" fill="#fff" stroke="#e0262b" stroke-width="0.9"/>
<circle cx="283.35" cy="403.87" r="1.9" fill="#fff" stroke="#e0262b" stroke-width="0.9"/>
<circle cx="298.40" cy="401.01" r="1.9" fill="#fff" stroke="#e0262b" stroke-width="0.9"/>
<circle cx="208.10" cy="333.80" r="1.9" fill="#fff" stroke="#1fa463" stroke-width="0.9"/>
<circle cx="223.15" cy="335.23" r="1.9" fill="#fff" stroke="#1fa463" stroke-width="0.9"/>
<circle cx="238.20" cy="335.94" r="1.9" fill="#fff" stroke="#1fa463" stroke-width="0.9"/>
<circle cx="253.25" cy="336.66" r="1.9" fill="#fff" stroke="#1fa463" stroke-width="0.9"/>
<circle cx="268.30" cy="338.09" r="1.9" fill="#fff" stroke="#1fa463" stroke-width="0.9"/>
<circle cx="283.35" cy="339.52" r="1.9" fill="#fff" stroke="#1fa463" stroke-width="0.9"/>
<circle cx="298.40" cy="342.38" r="1.9" fill="#fff" stroke="#1fa463" stroke-width="0.9"/>
<polygon points="208.10,333.75 210.30,337.54 205.90,337.54" fill="#fff" stroke="#111111" stroke-width="0.9" stroke-linejoin="round" />
<polygon points="223.15,334.46 225.35,338.26 220.95,338.26" fill="#fff" stroke="#111111" stroke-width="0.9" stroke-linejoin="round" />
<polygon points="238.20,335.18 240.40,338.97 236.00,338.97" fill="#fff" stroke="#111111" stroke-width="0.9" stroke-linejoin="round" />
<polygon points="253.25,336.61 255.45,340.40 251.05,340.40" fill="#fff" stroke="#111111" stroke-width="0.9" stroke-linejoin="round" />
<polygon points="268.30,338.75 270.50,342.55 266.10,342.55" fill="#fff" stroke="#111111" stroke-width="0.9" stroke-linejoin="round" />
<polygon points="283.35,342.33 285.55,346.12 281.15,346.12" fill="#fff" stroke="#111111" stroke-width="0.9" stroke-linejoin="round" />
<polygon points="298.40,349.48 300.60,353.27 296.20,353.27" fill="#fff" stroke="#111111" stroke-width="0.9" stroke-linejoin="round" />
<line x1="350.30" y1="319.50" x2="350.30" y2="406.70" stroke="#8a8a8a" stroke-width="0.9" />
<line x1="350.30" y1="406.20" x2="455.40" y2="406.20" stroke="#8a8a8a" stroke-width="0.9" />
<line x1="348.10" y1="406.20" x2="350.30" y2="406.20" stroke="#8a8a8a" stroke-width="0.8" />
<text x="346.70" y="408.50" font-size="6.7" fill="#333" stroke="#333" stroke-width="0.22" text-anchor="end" textLength="3.4" lengthAdjust="spacingAndGlyphs" >0</text>
<line x1="348.10" y1="391.83" x2="350.30" y2="391.83" stroke="#8a8a8a" stroke-width="0.8" />
<text x="346.70" y="394.13" font-size="6.7" fill="#333" stroke="#333" stroke-width="0.22" text-anchor="end" textLength="6.6" lengthAdjust="spacingAndGlyphs" >20</text>
<line x1="348.10" y1="377.47" x2="350.30" y2="377.47" stroke="#8a8a8a" stroke-width="0.8" />
<text x="346.70" y="379.77" font-size="6.7" fill="#333" stroke="#333" stroke-width="0.22" text-anchor="end" textLength="6.6" lengthAdjust="spacingAndGlyphs" >40</text>
<line x1="348.10" y1="363.10" x2="350.30" y2="363.10" stroke="#8a8a8a" stroke-width="0.8" />
<text x="346.70" y="365.40" font-size="6.7" fill="#333" stroke="#333" stroke-width="0.22" text-anchor="end" textLength="6.6" lengthAdjust="spacingAndGlyphs" >60</text>
<line x1="348.10" y1="348.74" x2="350.30" y2="348.74" stroke="#8a8a8a" stroke-width="0.8" />
<text x="346.70" y="351.04" font-size="6.7" fill="#333" stroke="#333" stroke-width="0.22" text-anchor="end" textLength="6.6" lengthAdjust="spacingAndGlyphs" >80</text>
<line x1="348.10" y1="334.37" x2="350.30" y2="334.37" stroke="#8a8a8a" stroke-width="0.8" />
<text x="346.70" y="336.67" font-size="6.7" fill="#333" stroke="#333" stroke-width="0.22" text-anchor="end" textLength="9.8" lengthAdjust="spacingAndGlyphs" >100</text>
<line x1="348.10" y1="320.00" x2="350.30" y2="320.00" stroke="#8a8a8a" stroke-width="0.8" />
<text x="346.70" y="322.30" font-size="6.7" fill="#333" stroke="#333" stroke-width="0.22" text-anchor="end" textLength="9.8" lengthAdjust="spacingAndGlyphs" >120</text>
<line x1="357.30" y1="406.20" x2="357.30" y2="408.20" stroke="#8a8a8a" stroke-width="0.7" />
<text x="359.30" y="411.80" font-size="6.1" fill="#333" stroke="#333" stroke-width="0.22" text-anchor="end" transform="rotate(-45 359.30 411.80)" >0.001</text>
<line x1="372.35" y1="406.20" x2="372.35" y2="408.20" stroke="#8a8a8a" stroke-width="0.7" />
<text x="374.35" y="411.80" font-size="6.1" fill="#333" stroke="#333" stroke-width="0.22" text-anchor="end" transform="rotate(-45 374.35 411.80)" >0.01</text>
<line x1="387.40" y1="406.20" x2="387.40" y2="408.20" stroke="#8a8a8a" stroke-width="0.7" />
<text x="389.40" y="411.80" font-size="6.1" fill="#333" stroke="#333" stroke-width="0.22" text-anchor="end" transform="rotate(-45 389.40 411.80)" >0.1</text>
<line x1="402.45" y1="406.20" x2="402.45" y2="408.20" stroke="#8a8a8a" stroke-width="0.7" />
<text x="404.45" y="411.80" font-size="6.1" fill="#333" stroke="#333" stroke-width="0.22" text-anchor="end" transform="rotate(-45 404.45 411.80)" >1</text>
<line x1="417.50" y1="406.20" x2="417.50" y2="408.20" stroke="#8a8a8a" stroke-width="0.7" />
<text x="419.50" y="411.80" font-size="6.1" fill="#333" stroke="#333" stroke-width="0.22" text-anchor="end" transform="rotate(-45 419.50 411.80)" >10</text>
<line x1="432.55" y1="406.20" x2="432.55" y2="408.20" stroke="#8a8a8a" stroke-width="0.7" />
<text x="434.55" y="411.80" font-size="6.1" fill="#333" stroke="#333" stroke-width="0.22" text-anchor="end" transform="rotate(-45 434.55 411.80)" >100</text>
<line x1="447.60" y1="406.20" x2="447.60" y2="408.20" stroke="#8a8a8a" stroke-width="0.7" />
<text x="449.60" y="411.80" font-size="6.1" fill="#333" stroke="#333" stroke-width="0.22" text-anchor="end" transform="rotate(-45 449.60 411.80)" >1,000</text>
<text x="403.30" y="435.80" font-size="6.6" fill="#222" stroke="#222" stroke-width="0.22" text-anchor="middle" textLength="64.7" lengthAdjust="spacingAndGlyphs" >Concentration (ng/mL)</text>
<text x="387.50" y="310.20" font-size="7.4" fill="#222" stroke="#222" stroke-width="0.22" text-anchor="middle" textLength="14.6" lengthAdjust="spacingAndGlyphs" >ES-2</text>
<text x="330.60" y="362.40" font-size="6.4" fill="#333" stroke="#333" stroke-width="0.22" text-anchor="middle" textLength="67.5" lengthAdjust="spacingAndGlyphs" transform="rotate(-90 330.60 362.40)" >Relative cell viability (%)</text>
<line x1="357.30" y1="335.09" x2="357.30" y2="340.83" stroke="#6a6a6a" stroke-width="0.8" />
<line x1="355.90" y1="335.09" x2="358.70" y2="335.09" stroke="#6a6a6a" stroke-width="0.8" />
<line x1="355.90" y1="340.83" x2="358.70" y2="340.83" stroke="#6a6a6a" stroke-width="0.8" />
<line x1="447.60" y1="331.50" x2="447.60" y2="336.52" stroke="#6a6a6a" stroke-width="0.8" />
<line x1="446.20" y1="331.50" x2="449.00" y2="331.50" stroke="#6a6a6a" stroke-width="0.8" />
<line x1="446.20" y1="336.52" x2="449.00" y2="336.52" stroke="#6a6a6a" stroke-width="0.8" />
<polyline points="357.30,338.68 372.35,341.55 387.40,339.40 402.45,341.55 417.50,341.55 432.55,342.99 447.60,333.72" fill="none" stroke="#e0262b" stroke-width="1.6" stroke-linejoin="round" />
<polyline points="357.30,336.52 372.35,339.40 387.40,338.68 402.45,340.12 417.50,341.55 432.55,342.27 447.60,342.41" fill="none" stroke="#1fa463" stroke-width="1.6" stroke-linejoin="round" />
<polyline points="357.30,337.24 372.35,340.12 387.40,340.12 402.45,340.83 417.50,341.55 432.55,343.71 447.60,340.62" fill="none" stroke="#111111" stroke-width="1.6" stroke-linejoin="round" />
<circle cx="357.30" cy="338.68" r="1.9" fill="#fff" stroke="#e0262b" stroke-width="0.9"/>
<circle cx="372.35" cy="341.55" r="1.9" fill="#fff" stroke="#e0262b" stroke-width="0.9"/>
<circle cx="387.40" cy="339.40" r="1.9" fill="#fff" stroke="#e0262b" stroke-width="0.9"/>
<circle cx="402.45" cy="341.55" r="1.9" fill="#fff" stroke="#e0262b" stroke-width="0.9"/>
<circle cx="417.50" cy="341.55" r="1.9" fill="#fff" stroke="#e0262b" stroke-width="0.9"/>
<circle cx="432.55" cy="342.99" r="1.9" fill="#fff" stroke="#e0262b" stroke-width="0.9"/>
<circle cx="447.60" cy="333.72" r="1.9" fill="#fff" stroke="#e0262b" stroke-width="0.9"/>
<circle cx="357.30" cy="336.52" r="1.9" fill="#fff" stroke="#1fa463" stroke-width="0.9"/>
<circle cx="372.35" cy="339.40" r="1.9" fill="#fff" stroke="#1fa463" stroke-width="0.9"/>
<circle cx="387.40" cy="338.68" r="1.9" fill="#fff" stroke="#1fa463" stroke-width="0.9"/>
<circle cx="402.45" cy="340.12" r="1.9" fill="#fff" stroke="#1fa463" stroke-width="0.9"/>
<circle cx="417.50" cy="341.55" r="1.9" fill="#fff" stroke="#1fa463" stroke-width="0.9"/>
<circle cx="432.55" cy="342.27" r="1.9" fill="#fff" stroke="#1fa463" stroke-width="0.9"/>
<circle cx="447.60" cy="342.41" r="1.9" fill="#fff" stroke="#1fa463" stroke-width="0.9"/>
<polygon points="357.30,335.04 359.50,338.84 355.10,338.84" fill="#fff" stroke="#111111" stroke-width="0.9" stroke-linejoin="round" />
<polygon points="372.35,337.92 374.55,341.72 370.15,341.72" fill="#fff" stroke="#111111" stroke-width="0.9" stroke-linejoin="round" />
<polygon points="387.40,337.92 389.60,341.72 385.20,341.72" fill="#fff" stroke="#111111" stroke-width="0.9" stroke-linejoin="round" />
<polygon points="402.45,338.63 404.65,342.43 400.25,342.43" fill="#fff" stroke="#111111" stroke-width="0.9" stroke-linejoin="round" />
<polygon points="417.50,339.35 419.70,343.15 415.30,343.15" fill="#fff" stroke="#111111" stroke-width="0.9" stroke-linejoin="round" />
<polygon points="432.55,341.51 434.75,345.31 430.35,345.31" fill="#fff" stroke="#111111" stroke-width="0.9" stroke-linejoin="round" />
<polygon points="447.60,338.42 449.80,342.22 445.40,342.22" fill="#fff" stroke="#111111" stroke-width="0.9" stroke-linejoin="round" />
<line x1="452.60" y1="360.00" x2="467.00" y2="360.00" stroke="#e0262b" stroke-width="1.6" />
<circle cx="459.50" cy="360.00" r="1.9" fill="#fff" stroke="#e0262b" stroke-width="0.9"/>
<text x="469.80" y="362.60" font-size="7.5" fill="#222" stroke="#222" stroke-width="0.22" textLength="19.5" lengthAdjust="spacingAndGlyphs" >R-DXd</text>
<line x1="452.60" y1="373.80" x2="467.00" y2="373.80" stroke="#1fa463" stroke-width="1.6" />
<circle cx="459.50" cy="373.80" r="1.9" fill="#fff" stroke="#1fa463" stroke-width="0.9"/>
<text x="469.80" y="376.40" font-size="7.5" fill="#222" stroke="#222" stroke-width="0.22" textLength="49.2" lengthAdjust="spacingAndGlyphs" >Naked CDH6 Ab</text>
<line x1="452.60" y1="388.20" x2="467.00" y2="388.20" stroke="#111111" stroke-width="1.6" />
<polygon points="459.50,386.00 461.70,389.80 457.30,389.80" fill="#fff" stroke="#111111" stroke-width="0.9" stroke-linejoin="round" />
<text x="469.80" y="390.80" font-size="7.5" fill="#222" stroke="#222" stroke-width="0.22" textLength="39.5" lengthAdjust="spacingAndGlyphs" >Control ADC</text>
<line x1="53.80" y1="458.10" x2="53.80" y2="551.50" stroke="#8a8a8a" stroke-width="0.9" />
<line x1="53.80" y1="551.00" x2="172.50" y2="551.00" stroke="#8a8a8a" stroke-width="0.9" />
<line x1="51.40" y1="551.00" x2="53.80" y2="551.00" stroke="#8a8a8a" stroke-width="0.8" />
<text x="50.20" y="553.90" font-size="8.3" fill="#333" stroke="#333" stroke-width="0.22" text-anchor="end" textLength="4.6" lengthAdjust="spacingAndGlyphs" >0</text>
<line x1="51.40" y1="535.60" x2="53.80" y2="535.60" stroke="#8a8a8a" stroke-width="0.8" />
<text x="50.20" y="538.50" font-size="8.3" fill="#333" stroke="#333" stroke-width="0.22" text-anchor="end" textLength="9.2" lengthAdjust="spacingAndGlyphs" >20</text>
<line x1="51.40" y1="520.20" x2="53.80" y2="520.20" stroke="#8a8a8a" stroke-width="0.8" />
<text x="50.20" y="523.10" font-size="8.3" fill="#333" stroke="#333" stroke-width="0.22" text-anchor="end" textLength="9.2" lengthAdjust="spacingAndGlyphs" >40</text>
<line x1="51.40" y1="504.80" x2="53.80" y2="504.80" stroke="#8a8a8a" stroke-width="0.8" />
<text x="50.20" y="507.70" font-size="8.3" fill="#333" stroke="#333" stroke-width="0.22" text-anchor="end" textLength="9.2" lengthAdjust="spacingAndGlyphs" >60</text>
<line x1="51.40" y1="489.40" x2="53.80" y2="489.40" stroke="#8a8a8a" stroke-width="0.8" />
<text x="50.20" y="492.30" font-size="8.3" fill="#333" stroke="#333" stroke-width="0.22" text-anchor="end" textLength="9.2" lengthAdjust="spacingAndGlyphs" >80</text>
<line x1="51.40" y1="474.00" x2="53.80" y2="474.00" stroke="#8a8a8a" stroke-width="0.8" />
<text x="50.20" y="476.90" font-size="8.3" fill="#333" stroke="#333" stroke-width="0.22" text-anchor="end" textLength="13.9" lengthAdjust="spacingAndGlyphs" >100</text>
<line x1="51.40" y1="458.60" x2="53.80" y2="458.60" stroke="#8a8a8a" stroke-width="0.8" />
<text x="50.20" y="461.50" font-size="8.3" fill="#333" stroke="#333" stroke-width="0.22" text-anchor="end" textLength="13.9" lengthAdjust="spacingAndGlyphs" >120</text>
<line x1="62.60" y1="551.00" x2="62.60" y2="553.20" stroke="#8a8a8a" stroke-width="0.7" />
<text x="65.20" y="557.40" font-size="7.9" fill="#333" stroke="#333" stroke-width="0.22" text-anchor="end" transform="rotate(-45 65.20 557.40)" >0.001</text>
<line x1="79.55" y1="551.00" x2="79.55" y2="553.20" stroke="#8a8a8a" stroke-width="0.7" />
<text x="82.15" y="557.40" font-size="7.9" fill="#333" stroke="#333" stroke-width="0.22" text-anchor="end" transform="rotate(-45 82.15 557.40)" >0.01</text>
<line x1="96.50" y1="551.00" x2="96.50" y2="553.20" stroke="#8a8a8a" stroke-width="0.7" />
<text x="99.10" y="557.40" font-size="7.9" fill="#333" stroke="#333" stroke-width="0.22" text-anchor="end" transform="rotate(-45 99.10 557.40)" >0.1</text>
<line x1="113.45" y1="551.00" x2="113.45" y2="553.20" stroke="#8a8a8a" stroke-width="0.7" />
<text x="116.05" y="557.40" font-size="7.9" fill="#333" stroke="#333" stroke-width="0.22" text-anchor="end" transform="rotate(-45 116.05 557.40)" >1</text>
<line x1="130.40" y1="551.00" x2="130.40" y2="553.20" stroke="#8a8a8a" stroke-width="0.7" />
<text x="133.00" y="557.40" font-size="7.9" fill="#333" stroke="#333" stroke-width="0.22" text-anchor="end" transform="rotate(-45 133.00 557.40)" >10</text>
<line x1="147.35" y1="551.00" x2="147.35" y2="553.20" stroke="#8a8a8a" stroke-width="0.7" />
<text x="149.95" y="557.40" font-size="7.9" fill="#333" stroke="#333" stroke-width="0.22" text-anchor="end" transform="rotate(-45 149.95 557.40)" >100</text>
<line x1="164.30" y1="551.00" x2="164.30" y2="553.20" stroke="#8a8a8a" stroke-width="0.7" />
<text x="166.90" y="557.40" font-size="7.9" fill="#333" stroke="#333" stroke-width="0.22" text-anchor="end" transform="rotate(-45 166.90 557.40)" >1,000</text>
<text x="113.40" y="586.00" font-size="7.9" fill="#222" stroke="#222" stroke-width="0.22" text-anchor="middle" textLength="101" lengthAdjust="spacingAndGlyphs" >R-DXd concentration (ng/mL)</text>
<text x="28.50" y="504.40" font-size="8.6" fill="#333" stroke="#333" stroke-width="0.22" text-anchor="middle" textLength="81.7" lengthAdjust="spacingAndGlyphs" transform="rotate(-90 28.50 504.40)" >Relative cell viability (%)</text>
<line x1="164.30" y1="482.86" x2="164.30" y2="486.70" stroke="#6a6a6a" stroke-width="0.8" />
<line x1="162.90" y1="482.86" x2="165.70" y2="482.86" stroke="#6a6a6a" stroke-width="0.8" />
<line x1="162.90" y1="486.70" x2="165.70" y2="486.70" stroke="#6a6a6a" stroke-width="0.8" />
<polyline points="62.60,474.00 79.55,474.00 96.50,476.31 113.45,474.77 130.40,475.93 147.35,477.47 164.30,484.78" fill="none" stroke="#1fa463" stroke-width="1.6" stroke-linejoin="round" />
<polyline points="62.60,472.85 79.55,472.46 96.50,474.77 113.45,526.36 130.40,532.52 147.35,534.06 164.30,534.45" fill="none" stroke="#e0262b" stroke-width="1.6" stroke-linejoin="round" />
<circle cx="62.60" cy="474.00" r="1.8" fill="#fff" stroke="#1fa463" stroke-width="0.9"/>
<circle cx="79.55" cy="474.00" r="1.8" fill="#fff" stroke="#1fa463" stroke-width="0.9"/>
<circle cx="96.50" cy="476.31" r="1.8" fill="#fff" stroke="#1fa463" stroke-width="0.9"/>
<circle cx="113.45" cy="474.77" r="1.8" fill="#fff" stroke="#1fa463" stroke-width="0.9"/>
<circle cx="130.40" cy="475.93" r="1.8" fill="#fff" stroke="#1fa463" stroke-width="0.9"/>
<circle cx="147.35" cy="477.47" r="1.8" fill="#fff" stroke="#1fa463" stroke-width="0.9"/>
<circle cx="164.30" cy="484.78" r="1.8" fill="#fff" stroke="#1fa463" stroke-width="0.9"/>
<circle cx="62.60" cy="472.85" r="1.8" fill="#fff" stroke="#e0262b" stroke-width="0.9"/>
<circle cx="79.55" cy="472.46" r="1.8" fill="#fff" stroke="#e0262b" stroke-width="0.9"/>
<circle cx="96.50" cy="474.77" r="1.8" fill="#fff" stroke="#e0262b" stroke-width="0.9"/>
<circle cx="113.45" cy="526.36" r="1.8" fill="#fff" stroke="#e0262b" stroke-width="0.9"/>
<circle cx="130.40" cy="532.52" r="1.8" fill="#fff" stroke="#e0262b" stroke-width="0.9"/>
<circle cx="147.35" cy="534.06" r="1.8" fill="#fff" stroke="#e0262b" stroke-width="0.9"/>
<circle cx="164.30" cy="534.45" r="1.8" fill="#fff" stroke="#e0262b" stroke-width="0.9"/>
<line x1="179.00" y1="466.20" x2="191.80" y2="466.20" stroke="#e0262b" stroke-width="1.4" />
<circle cx="185.60" cy="466.20" r="1.6" fill="#fff" stroke="#e0262b" stroke-width="0.9"/>
<text x="194.70" y="468.40" font-size="6.4" fill="#222" stroke="#222" stroke-width="0.22" textLength="36.2" lengthAdjust="spacingAndGlyphs" >NIH:OVCAR-3</text>
<line x1="179.00" y1="481.00" x2="191.80" y2="481.00" stroke="#1fa463" stroke-width="1.4" />
<circle cx="185.60" cy="481.00" r="1.6" fill="#fff" stroke="#1fa463" stroke-width="0.9"/>
<text x="194.70" y="483.20" font-size="6.4" fill="#222" stroke="#222" stroke-width="0.22" textLength="34.6" lengthAdjust="spacingAndGlyphs" >KO-OVCAR-3</text>
<line x1="302.10" y1="459.50" x2="302.10" y2="573.90" stroke="#8a8a8a" stroke-width="0.9" />
<line x1="302.10" y1="573.40" x2="471.50" y2="573.40" stroke="#8a8a8a" stroke-width="0.9" />
<line x1="302.10" y1="573.40" x2="305.90" y2="573.40" stroke="#aaa" stroke-width="0.8" />
<text x="299.70" y="576.10" font-size="8.6" fill="#333" stroke="#333" stroke-width="0.22" text-anchor="end" textLength="4.3" lengthAdjust="spacingAndGlyphs" >0</text>
<line x1="302.10" y1="537.89" x2="305.90" y2="537.89" stroke="#aaa" stroke-width="0.8" />
<text x="299.70" y="540.59" font-size="8.6" fill="#333" stroke="#333" stroke-width="0.22" text-anchor="end" textLength="8.8" lengthAdjust="spacingAndGlyphs" >50</text>
<line x1="302.10" y1="502.38" x2="305.90" y2="502.38" stroke="#aaa" stroke-width="0.8" />
<text x="299.70" y="505.08" font-size="8.6" fill="#333" stroke="#333" stroke-width="0.22" text-anchor="end" textLength="12.4" lengthAdjust="spacingAndGlyphs" >100</text>
<line x1="302.10" y1="466.87" x2="305.90" y2="466.87" stroke="#aaa" stroke-width="0.8" />
<text x="299.70" y="469.57" font-size="8.6" fill="#333" stroke="#333" stroke-width="0.22" text-anchor="end" textLength="12.4" lengthAdjust="spacingAndGlyphs" >150</text>
<text x="279.70" y="518.10" font-size="9.0" fill="#333" stroke="#333" stroke-width="0.22" text-anchor="middle" textLength="88.7" lengthAdjust="spacingAndGlyphs" transform="rotate(-90 279.70 518.10)" >Relative cell viability (%)</text>
<line x1="313.10" y1="460.50" x2="313.10" y2="484.30" stroke="#666" stroke-width="0.8" />
<line x1="310.90" y1="460.50" x2="315.30" y2="460.50" stroke="#666" stroke-width="0.8" />
<rect x="308.05" y="484.75" width="10.10" height="88.65" fill="#fff" stroke="#6e6e6e" stroke-width="0.9" />
<line x1="329.05" y1="504.00" x2="329.05" y2="510.00" stroke="#666" stroke-width="0.8" />
<line x1="326.85" y1="504.00" x2="331.25" y2="504.00" stroke="#666" stroke-width="0.8" />
<rect x="324.10" y="510.30" width="9.90" height="63.10" fill="#f26a1d" stroke="#b9500f" stroke-width="0.7" />
<line x1="344.80" y1="558.30" x2="344.80" y2="559.30" stroke="#666" stroke-width="0.8" />
<line x1="342.60" y1="558.30" x2="347.00" y2="558.30" stroke="#666" stroke-width="0.8" />
<rect x="339.60" y="559.30" width="10.40" height="14.10" fill="#0a0a0a" stroke="none" stroke-width="0" />
<line x1="371.55" y1="497.50" x2="371.55" y2="501.30" stroke="#666" stroke-width="0.8" />
<line x1="369.35" y1="497.50" x2="373.75" y2="497.50" stroke="#666" stroke-width="0.8" />
<rect x="366.75" y="501.75" width="9.60" height="71.65" fill="#fff" stroke="#6e6e6e" stroke-width="0.9" />
<line x1="387.50" y1="546.30" x2="387.50" y2="548.30" stroke="#666" stroke-width="0.8" />
<line x1="385.30" y1="546.30" x2="389.70" y2="546.30" stroke="#666" stroke-width="0.8" />
<rect x="382.80" y="548.60" width="9.40" height="24.80" fill="#f26a1d" stroke="#b9500f" stroke-width="0.7" />
<rect x="398.10" y="570.00" width="10.60" height="3.40" fill="#0a0a0a" stroke="none" stroke-width="0" />
<line x1="429.80" y1="498.80" x2="429.80" y2="513.80" stroke="#666" stroke-width="0.8" />
<line x1="427.60" y1="498.80" x2="432.00" y2="498.80" stroke="#666" stroke-width="0.8" />
<rect x="425.05" y="514.25" width="9.50" height="59.15" fill="#fff" stroke="#6e6e6e" stroke-width="0.9" />
<line x1="445.90" y1="562.00" x2="445.90" y2="564.50" stroke="#666" stroke-width="0.8" />
<line x1="443.70" y1="562.00" x2="448.10" y2="562.00" stroke="#666" stroke-width="0.8" />
<rect x="440.90" y="564.80" width="10.00" height="8.60" fill="#f26a1d" stroke="#b9500f" stroke-width="0.7" />
<rect x="456.30" y="572.40" width="11.00" height="1.00" fill="#0a0a0a" stroke="none" stroke-width="0" />
<text x="329.30" y="585.00" font-size="7.6" fill="#222" stroke="#222" stroke-width="0.22" text-anchor="middle" textLength="20.1" lengthAdjust="spacingAndGlyphs" >Day 6</text>
<text x="387.80" y="585.00" font-size="7.6" fill="#222" stroke="#222" stroke-width="0.22" text-anchor="middle" textLength="20.1" lengthAdjust="spacingAndGlyphs" >Day 8</text>
<text x="445.80" y="585.00" font-size="7.6" fill="#222" stroke="#222" stroke-width="0.22" text-anchor="middle" textLength="24.1" lengthAdjust="spacingAndGlyphs" >Day 10</text>
<rect x="364.00" y="454.40" width="3.40" height="3.40" fill="#fff" stroke="#666" stroke-width="0.8" />
<rect x="363.80" y="464.40" width="3.80" height="3.80" fill="#f26a1d" stroke="#b84a0c" stroke-width="0.4" />
<rect x="363.80" y="474.40" width="3.80" height="3.80" fill="#000" stroke="none" stroke-width="0" />
<text x="371.30" y="458.90" font-size="7.6" fill="#222" stroke="#222" stroke-width="0.22" textLength="72.5" lengthAdjust="spacingAndGlyphs" >Upper: KO/Lower: KO</text>
<text x="371.30" y="468.90" font-size="7.6" fill="#222" stroke="#222" stroke-width="0.22" textLength="75.0" lengthAdjust="spacingAndGlyphs" >Upper: WT/Lower: KO</text>
<text x="371.30" y="478.90" font-size="7.6" fill="#222" stroke="#222" stroke-width="0.22" textLength="111.2" lengthAdjust="spacingAndGlyphs" >Upper: Medium only/Lower: WT</text>
<text x="84.00" y="612.00" font-size="8.7" fill="#222" stroke="#222" stroke-width="0.22" text-anchor="end" textLength="22.5" lengthAdjust="spacingAndGlyphs" >R-DXd</text>
<text x="84.00" y="622.70" font-size="8.7" fill="#222" stroke="#222" stroke-width="0.22" text-anchor="end" textLength="15.0" lengthAdjust="spacingAndGlyphs" >DXd</text>
<text x="84.00" y="633.40" font-size="8.7" fill="#222" stroke="#222" stroke-width="0.22" text-anchor="end" textLength="57.9" lengthAdjust="spacingAndGlyphs" >Naked CDH6 Ab</text>
<text x="84.00" y="644.30" font-size="8.7" fill="#222" stroke="#222" stroke-width="0.22" text-anchor="end" textLength="45.0" lengthAdjust="spacingAndGlyphs" >Control ADC</text>
<line x1="91.80" y1="609.30" x2="95.40" y2="609.30" stroke="#2a2a2a" stroke-width="1.0" />
<line x1="93.60" y1="607.10" x2="93.60" y2="611.50" stroke="#2a2a2a" stroke-width="1.0" />
<line x1="110.30" y1="609.30" x2="115.30" y2="609.30" stroke="#2a2a2a" stroke-width="0.9" />
<line x1="128.90" y1="609.30" x2="133.90" y2="609.30" stroke="#2a2a2a" stroke-width="0.9" />
<line x1="148.10" y1="609.30" x2="153.10" y2="609.30" stroke="#2a2a2a" stroke-width="0.9" />
<line x1="167.00" y1="609.30" x2="172.00" y2="609.30" stroke="#2a2a2a" stroke-width="0.9" />
<line x1="91.10" y1="620.30" x2="96.10" y2="620.30" stroke="#2a2a2a" stroke-width="0.9" />
<line x1="111.00" y1="620.30" x2="114.60" y2="620.30" stroke="#2a2a2a" stroke-width="1.0" />
<line x1="112.80" y1="618.10" x2="112.80" y2="622.50" stroke="#2a2a2a" stroke-width="1.0" />
<line x1="128.90" y1="620.30" x2="133.90" y2="620.30" stroke="#2a2a2a" stroke-width="0.9" />
<line x1="148.10" y1="620.30" x2="153.10" y2="620.30" stroke="#2a2a2a" stroke-width="0.9" />
<line x1="167.00" y1="620.30" x2="172.00" y2="620.30" stroke="#2a2a2a" stroke-width="0.9" />
<line x1="91.10" y1="631.20" x2="96.10" y2="631.20" stroke="#2a2a2a" stroke-width="0.9" />
<line x1="110.30" y1="631.20" x2="115.30" y2="631.20" stroke="#2a2a2a" stroke-width="0.9" />
<line x1="129.60" y1="631.20" x2="133.20" y2="631.20" stroke="#2a2a2a" stroke-width="1.0" />
<line x1="131.40" y1="629.00" x2="131.40" y2="633.40" stroke="#2a2a2a" stroke-width="1.0" />
<line x1="148.10" y1="631.20" x2="153.10" y2="631.20" stroke="#2a2a2a" stroke-width="0.9" />
<line x1="167.00" y1="631.20" x2="172.00" y2="631.20" stroke="#2a2a2a" stroke-width="0.9" />
<line x1="91.10" y1="642.20" x2="96.10" y2="642.20" stroke="#2a2a2a" stroke-width="0.9" />
<line x1="110.30" y1="642.20" x2="115.30" y2="642.20" stroke="#2a2a2a" stroke-width="0.9" />
<line x1="128.90" y1="642.20" x2="133.90" y2="642.20" stroke="#2a2a2a" stroke-width="0.9" />
<line x1="148.80" y1="642.20" x2="152.40" y2="642.20" stroke="#2a2a2a" stroke-width="1.0" />
<line x1="150.60" y1="640.00" x2="150.60" y2="644.40" stroke="#2a2a2a" stroke-width="1.0" />
<line x1="167.00" y1="642.20" x2="172.00" y2="642.20" stroke="#2a2a2a" stroke-width="0.9" />
<rect x="83.5" y="649.40" width="95.8" height="19.90" rx="1.5" fill="#fff" stroke="#7a7a7a" stroke-width="1"/>
<rect x="83.5" y="671.30" width="95.8" height="19.60" rx="1.5" fill="#fff" stroke="#7a7a7a" stroke-width="1"/>
<rect x="83.5" y="692.90" width="95.8" height="19.60" rx="1.5" fill="#fff" stroke="#7a7a7a" stroke-width="1"/>
<rect x="83.5" y="715.20" width="95.8" height="19.20" rx="1.5" fill="#fff" stroke="#7a7a7a" stroke-width="1"/>
<text x="77.20" y="662.60" font-size="8.7" fill="#222" stroke="#222" stroke-width="0.22" text-anchor="end" textLength="67.0" lengthAdjust="spacingAndGlyphs" >Cleaved caspase-3</text>
<text x="77.20" y="684.60" font-size="8.7" fill="#222" stroke="#222" stroke-width="0.22" text-anchor="end" textLength="23.2" lengthAdjust="spacingAndGlyphs" >pChk1</text>
<text x="77.20" y="705.20" font-size="8.7" fill="#222" stroke="#222" stroke-width="0.22" text-anchor="end" textLength="20.3" lengthAdjust="spacingAndGlyphs" >Chk1</text>
<text x="77.20" y="728.60" font-size="8.7" fill="#222" stroke="#222" stroke-width="0.22" text-anchor="end" textLength="20.3" lengthAdjust="spacingAndGlyphs" >Actin</text>
<defs><filter id="bl" x="-20%" y="-80%" width="140%" height="260%"><feGaussianBlur stdDeviation="0.45 0.8"/></filter><filter id="bl2" x="-20%" y="-40%" width="140%" height="180%"><feGaussianBlur stdDeviation="0.45 0.5"/></filter></defs>
<rect x="86.10" y="656.55" width="16.40" height="4.30" fill="rgb(85,85,85)" filter="url(#bl)"/>
<rect x="104.80" y="656.55" width="16.30" height="4.10" fill="rgb(185,185,185)" filter="url(#bl)"/>
<rect x="142.60" y="656.85" width="16.20" height="3.50" fill="rgb(232,232,232)" filter="url(#bl)"/>
<rect x="86.10" y="679.65" width="16.40" height="4.80" fill="rgb(160,160,160)" filter="url(#bl)"/>
<rect x="104.80" y="679.95" width="16.30" height="4.30" fill="rgb(65,65,65)" filter="url(#bl)"/>
<rect x="142.60" y="679.35" width="16.20" height="3.90" fill="rgb(218,218,218)" filter="url(#bl)"/>
<rect x="86.10" y="699.95" width="16.40" height="4.30" fill="rgb(135,135,135)" filter="url(#bl)"/>
<rect x="104.80" y="699.95" width="16.30" height="4.10" fill="rgb(200,200,200)" filter="url(#bl)"/>
<rect x="123.60" y="698.05" width="16.30" height="6.60" fill="rgb(70,70,70)" filter="url(#bl)"/>
<rect x="142.60" y="699.35" width="16.20" height="7.10" fill="rgb(58,58,58)" filter="url(#bl)"/>
<rect x="161.60" y="697.85" width="16.00" height="7.30" fill="rgb(55,55,55)" filter="url(#bl)"/>
<rect x="86.10" y="718.65" width="16.40" height="10.40" fill="rgb(5,5,5)" filter="url(#bl2)"/>
<rect x="104.80" y="718.65" width="16.30" height="10.40" fill="rgb(5,5,5)" filter="url(#bl2)"/>
<rect x="123.60" y="718.65" width="16.30" height="10.40" fill="rgb(5,5,5)" filter="url(#bl2)"/>
<rect x="142.60" y="718.65" width="16.20" height="10.40" fill="rgb(5,5,5)" filter="url(#bl2)"/>
<rect x="161.60" y="718.65" width="16.00" height="10.40" fill="rgb(5,5,5)" filter="url(#bl2)"/>
</svg>
</body></html>
